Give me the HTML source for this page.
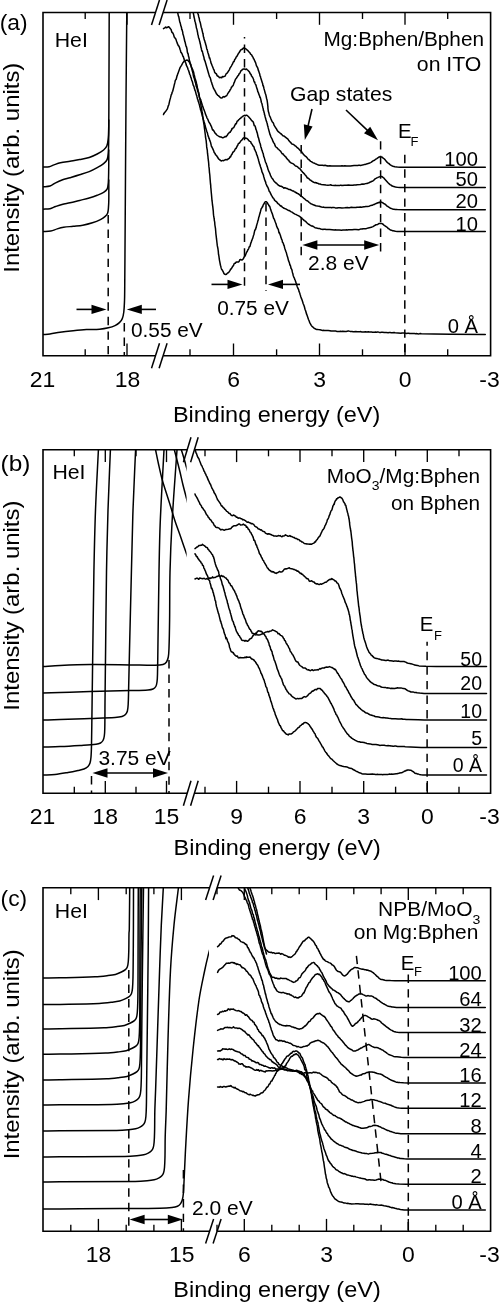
<!DOCTYPE html>
<html lang="en"><head><meta charset="utf-8"><title>UPS spectra</title>
<style>html,body{margin:0;padding:0;background:#fff}svg{display:block}text{font-family:"Liberation Sans", Arial, Helvetica, sans-serif}</style>
</head><body>
<svg width="500" height="1302" viewBox="0 0 500 1302" font-family='"Liberation Sans", Arial, Helvetica, sans-serif' fill="#000">
<rect width="500" height="1302" fill="#fff"/>
<!-- panel a -->
<defs><clipPath id="ca"><rect x="43.0" y="12.5" width="447.6" height="343.3"/></clipPath></defs>
<path d="M155.3 12.5H43V355.8H155.3M163.3 12.5H490.6V355.8H163.3" fill="none" stroke="#000" stroke-width="1.6" stroke-linejoin="miter"/>
<line x1="151.5" y1="25" x2="159.5" y2="0" stroke="#000" stroke-width="1.5" stroke-linecap="butt"/>
<line x1="159.1" y1="25" x2="167.1" y2="0" stroke="#000" stroke-width="1.5" stroke-linecap="butt"/>
<line x1="151.5" y1="368.3" x2="159.5" y2="343.3" stroke="#000" stroke-width="1.5" stroke-linecap="butt"/>
<line x1="159.1" y1="368.3" x2="167.1" y2="343.3" stroke="#000" stroke-width="1.5" stroke-linecap="butt"/>
<line x1="127" y1="12.5" x2="127" y2="24.8" stroke="#000" stroke-width="1.35" stroke-linecap="butt"/>
<line x1="233.5" y1="12.5" x2="233.5" y2="24.8" stroke="#000" stroke-width="1.35" stroke-linecap="butt"/>
<line x1="319.5" y1="12.5" x2="319.5" y2="24.8" stroke="#000" stroke-width="1.35" stroke-linecap="butt"/>
<line x1="405" y1="12.5" x2="405" y2="24.8" stroke="#000" stroke-width="1.35" stroke-linecap="butt"/>
<line x1="127" y1="355.8" x2="127" y2="343.5" stroke="#000" stroke-width="1.35" stroke-linecap="butt"/>
<line x1="233.5" y1="355.8" x2="233.5" y2="343.5" stroke="#000" stroke-width="1.35" stroke-linecap="butt"/>
<line x1="319.5" y1="355.8" x2="319.5" y2="343.5" stroke="#000" stroke-width="1.35" stroke-linecap="butt"/>
<line x1="405" y1="355.8" x2="405" y2="343.5" stroke="#000" stroke-width="1.35" stroke-linecap="butt"/>
<line x1="85.2" y1="12.5" x2="85.2" y2="19" stroke="#000" stroke-width="1.35" stroke-linecap="butt"/>
<line x1="190" y1="12.5" x2="190" y2="19" stroke="#000" stroke-width="1.35" stroke-linecap="butt"/>
<line x1="276.6" y1="12.5" x2="276.6" y2="19" stroke="#000" stroke-width="1.35" stroke-linecap="butt"/>
<line x1="362.5" y1="12.5" x2="362.5" y2="19" stroke="#000" stroke-width="1.35" stroke-linecap="butt"/>
<line x1="447.7" y1="12.5" x2="447.7" y2="19" stroke="#000" stroke-width="1.35" stroke-linecap="butt"/>
<line x1="85.2" y1="355.8" x2="85.2" y2="349.3" stroke="#000" stroke-width="1.35" stroke-linecap="butt"/>
<line x1="190" y1="355.8" x2="190" y2="349.3" stroke="#000" stroke-width="1.35" stroke-linecap="butt"/>
<line x1="276.6" y1="355.8" x2="276.6" y2="349.3" stroke="#000" stroke-width="1.35" stroke-linecap="butt"/>
<line x1="362.5" y1="355.8" x2="362.5" y2="349.3" stroke="#000" stroke-width="1.35" stroke-linecap="butt"/>
<line x1="447.7" y1="355.8" x2="447.7" y2="349.3" stroke="#000" stroke-width="1.35" stroke-linecap="butt"/>
<text transform="translate(42.6 386.6) scale(1.02 1)" font-size="22.5" text-anchor="middle">21</text>
<text transform="translate(127.4 386.6) scale(1.02 1)" font-size="22.5" text-anchor="middle">18</text>
<text transform="translate(233.5 386.6) scale(1.02 1)" font-size="22.5" text-anchor="middle">6</text>
<text transform="translate(319.5 386.6) scale(1.02 1)" font-size="22.5" text-anchor="middle">3</text>
<text transform="translate(405 386.6) scale(1.02 1)" font-size="22.5" text-anchor="middle">0</text>
<text transform="translate(489.5 386.6) scale(1.02 1)" font-size="22.5" text-anchor="middle">-3</text>
<text transform="translate(276.6 421.6) scale(1.03 1)" font-size="22.8" text-anchor="middle">Binding energy (eV)</text>
<text transform="translate(19.3 167.7) rotate(-90) scale(1.05 1)" font-size="22.8" text-anchor="middle">Intensity (arb. units)</text>
<text transform="translate(-0.3 30)" font-size="22.8" text-anchor="start">(a)</text>
<text transform="translate(54.7 47) scale(1.08 1)" font-size="19.7" text-anchor="start">HeI</text>
<text transform="translate(484 45.5) scale(1.06 1)" font-size="19.6" text-anchor="end">Mg:Bphen/Bphen</text>
<text transform="translate(481.4 70.7) scale(1.085 1)" font-size="19.6" text-anchor="end">on ITO</text>
<text transform="translate(290 100.5) scale(1.08 1)" font-size="19.6" text-anchor="start">Gap states</text>
<text transform="translate(398 138)" font-size="20.4" text-anchor="start">E</text>
<text transform="translate(410.5 145.5)" font-size="13" text-anchor="start">F</text>
<text transform="translate(478 165.6)" font-size="20.2" text-anchor="end">100</text>
<text transform="translate(478 186.4)" font-size="20.2" text-anchor="end">50</text>
<text transform="translate(478 208.3)" font-size="20.2" text-anchor="end">20</text>
<text transform="translate(478 230.8)" font-size="20.2" text-anchor="end">10</text>
<text transform="translate(478 332.5)" font-size="20.2" text-anchor="end">0 Å</text>
<text transform="translate(131 337.4) scale(1.04 1)" font-size="20" text-anchor="start">0.55 eV</text>
<text transform="translate(217.2 314.8) scale(1.04 1)" font-size="20" text-anchor="start">0.75 eV</text>
<text transform="translate(308 270.4) scale(1.05 1)" font-size="20" text-anchor="start">2.8 eV</text>
<line x1="108.2" y1="215" x2="108.2" y2="356" stroke="#000" stroke-width="1.5" stroke-linecap="butt" stroke-dasharray="8.4 6.15"/>
<line x1="124.3" y1="323" x2="124.3" y2="356" stroke="#000" stroke-width="1.5" stroke-linecap="butt" stroke-dasharray="8.4 6.15"/>
<line x1="244.5" y1="37" x2="244.5" y2="291" stroke="#000" stroke-width="1.5" stroke-linecap="butt" stroke-dasharray="8.4 6.15" stroke-dashoffset="7"/>
<line x1="266" y1="203" x2="266" y2="291" stroke="#000" stroke-width="1.5" stroke-linecap="butt" stroke-dasharray="8.4 6.15"/>
<line x1="301.2" y1="145" x2="301.2" y2="256" stroke="#000" stroke-width="1.5" stroke-linecap="butt" stroke-dasharray="8.4 6.15"/>
<line x1="380.6" y1="141.2" x2="380.6" y2="255" stroke="#000" stroke-width="1.5" stroke-linecap="butt" stroke-dasharray="8.4 6.15"/>
<line x1="404.8" y1="154.8" x2="404.8" y2="356" stroke="#000" stroke-width="1.5" stroke-linecap="butt" stroke-dasharray="8.4 6.15"/>
<line x1="76.5" y1="309.4" x2="94.5" y2="309.4" stroke="#000" stroke-width="1.6" stroke-linecap="butt"/>
<polygon points="106.5,309.4 91.5,314.1 91.5,304.7" fill="#000"/>
<line x1="156" y1="309.4" x2="138.8" y2="309.4" stroke="#000" stroke-width="1.6" stroke-linecap="butt"/>
<polygon points="126.8,309.4 141.8,304.7 141.8,314.1" fill="#000"/>
<line x1="211.5" y1="284.4" x2="230.5" y2="284.4" stroke="#000" stroke-width="1.6" stroke-linecap="butt"/>
<polygon points="242.5,284.4 227.5,289.1 227.5,279.7" fill="#000"/>
<line x1="300" y1="284.4" x2="280" y2="284.4" stroke="#000" stroke-width="1.6" stroke-linecap="butt"/>
<polygon points="268,284.4 283,279.7 283,289.1" fill="#000"/>
<line x1="314.4" y1="245" x2="367.2" y2="245" stroke="#000" stroke-width="1.6" stroke-linecap="butt"/>
<polygon points="379.2,245 364.2,249.7 364.2,240.3" fill="#000"/>
<polygon points="302.4,245 317.4,249.7 317.4,240.3" fill="#000"/>
<line x1="312" y1="109" x2="307.51" y2="128.31" stroke="#000" stroke-width="1.6" stroke-linecap="butt"/>
<polygon points="304.8,140 303.81,124.37 312.58,126.41" fill="#000"/>
<line x1="346" y1="110" x2="369.29" y2="132.05" stroke="#000" stroke-width="1.6" stroke-linecap="butt"/>
<polygon points="378,140.3 364.01,133.25 370.2,126.72" fill="#000"/>
<path d="M42.6 167.1C44.8 167 47.07 167.21 49.2 166.8C50.87 166.48 52.38 165.48 54 164.9C56.11 164.15 58.22 163.3 60.4 162.8C63.55 162.07 66.8 161.73 70 161.2C73.2 160.67 76.42 160.21 79.6 159.6C82.82 158.98 86.09 158.49 89.2 157.5C91.96 156.62 94.63 155.34 97.2 154C99.43 152.84 101.69 151.59 103.6 150C104.89 148.92 106.16 147.53 106.8 146C107.69 143.87 107.95 141.36 108.2 139C108.58 135.36 108.63 131.67 108.7 128C108.87 118.67 108.86 109.33 108.9 100C109.03 70.67 109.1 41.33 109.2 12" fill="none" stroke="#000" stroke-width="1.5" stroke-linejoin="round" stroke-linecap="round" clip-path="url(#ca)"/>
<path d="M42.6 186.8C45.07 186.53 47.68 186.71 50 186C52.01 185.38 53.68 183.76 55.6 182.8C57.68 181.76 59.81 180.78 62 180C64.61 179.08 67.34 178.49 70 177.7C73.21 176.75 76.41 175.81 79.6 174.8C82.81 173.78 86.09 172.87 89.2 171.6C91.95 170.47 94.6 169.05 97.2 167.6C99.4 166.38 101.66 165.16 103.6 163.6C104.96 162.5 106.44 161.17 107.1 159.6C108.01 157.44 108.1 154.82 108.3 152.4C108.64 148.29 108.64 144.13 108.7 140C108.8 133.33 108.77 126.67 108.8 120" fill="none" stroke="#000" stroke-width="1.5" stroke-linejoin="round" stroke-linecap="round" clip-path="url(#ca)"/>
<path d="M42.6 209.2C45.07 209.03 47.61 209.2 50 208.7C51.94 208.3 53.71 207.18 55.6 206.5C57.71 205.74 59.83 204.96 62 204.4C64.63 203.72 67.35 203.4 70 202.8C73.22 202.07 76.4 201.2 79.6 200.4C82.8 199.6 86.03 198.92 89.2 198C91.9 197.22 94.58 196.32 97.2 195.3C99.38 194.45 101.63 193.61 103.6 192.4C104.93 191.58 106.44 190.55 107.1 189.2C108.01 187.35 108.12 184.96 108.3 182.8C108.65 178.56 108.63 174.27 108.7 170C108.8 163.33 108.77 156.67 108.8 150" fill="none" stroke="#000" stroke-width="1.5" stroke-linejoin="round" stroke-linecap="round" clip-path="url(#ca)"/>
<path d="M42.6 231.6C45.33 231.43 48.13 231.59 50.8 231.1C53 230.69 55.04 229.54 57.2 228.9C59.31 228.27 61.43 227.65 63.6 227.3C66.77 226.79 70 226.65 73.2 226.3C76.4 225.95 79.64 225.78 82.8 225.2C86.04 224.61 89.26 223.8 92.4 222.8C95.13 221.93 97.84 220.88 100.4 219.6C102.11 218.74 103.78 217.66 105.2 216.4C106.18 215.53 107.12 214.4 107.6 213.2C108.19 211.74 108.25 210.01 108.4 208.4C108.65 205.61 108.76 202.8 108.8 200C108.89 193.34 108.8 186.67 108.8 180" fill="none" stroke="#000" stroke-width="1.5" stroke-linejoin="round" stroke-linecap="round" clip-path="url(#ca)"/>
<path d="M42.6 334.6C45.07 334.4 47.55 334.34 50 334C53.35 333.54 56.65 332.68 60 332.2C64.38 331.58 68.79 331.13 73.2 330.7C77.59 330.27 81.99 329.85 86.4 329.6C90.79 329.35 95.22 329.56 99.6 329.2C102.55 328.96 105.52 328.47 108.4 327.8C110.65 327.27 112.92 326.58 115 325.6C116.59 324.85 118.14 323.81 119.4 322.6C120.57 321.48 121.68 320.09 122.3 318.6C123.15 316.56 123.52 314.23 123.8 312C124.25 308.37 124.35 304.67 124.5 301C124.65 297.34 124.67 293.67 124.7 290C124.9 266.67 125.04 243.33 125.2 220C125.47 180 125.69 140 126 100C126.23 70.67 126.53 41.33 126.8 12" fill="none" stroke="#000" stroke-width="1.5" stroke-linejoin="round" stroke-linecap="round" clip-path="url(#ca)"/>
<path d="M197.6 12L198 14L198.3 14.6L198.7 16.7L199.2 18.3L199.6 20.7L199.8 21.2L200.3 22.7L201.2 27.2L201.7 28.5L202.8 33.3L203 33.7L203.3 35.8L203.5 37L203.8 37.4L204 39L204.2 39.4L204.5 40.5L204.7 40.6L205.2 42.9L205.4 43L205.7 44.7L205.9 45L206.2 45.9L206.7 48.7L206.9 49.3L207.2 49.5L207.5 50.9L207.7 51.7L208 53L208.3 53.8L208.6 54.9L208.8 55.4L209.4 58.1L209.7 57.8L210.4 60.4L210.7 61.4L211 63L211.3 63.4L212 65.3L212.3 65.9L213.4 68.8L214.2 70.4L214.6 72.2L215 72.6L215.5 73.5L216 73.5L216.5 74.1L217.1 75.6L217.8 76.2L218.5 76.3L219.3 77.5L220 77.7L220.8 77.3L221.7 77.7L222.6 76.4L223.5 76.8L224.3 76.4L225 76.2L226.2 73.7L226.8 73.4L227.9 72.1L228.5 71L229.5 69.6L230 68.1L231.5 65.8L232 64.7L232.5 64.1L233 62.7L233.4 61.8L233.8 61.7L234.3 61L234.7 59.4L235.1 59.2L235.6 58.6L236 57.4L236.5 56.5L236.9 56.4L238.6 53.2L239.2 52.5L240.6 50.1L241.3 49.6L242.1 49.4L243.6 47.9L244.3 48.2L245 48.4L245.8 48.7L246.5 49.6L247.3 50L248 50.8L248.8 51.8L249.4 52.2L250 52.9L250.6 54.2L251.6 54.8L252.1 56L253.1 57.4L253.5 58.7L254 59.1L255.2 62L255.6 62.6L256.4 65.6L257.4 67.4L257.8 68.2L258.4 70.5L258.7 71L259.4 73.4L259.7 73.9L260 75.8L260.5 76.7L260.8 78L262 81.7L262.3 82.9L262.6 83.4L262.9 85.3L263.1 85.9L263.4 86L264 88.7L264.5 90.4L265.3 93.5L265.6 94.1L265.9 95.1L266.6 98.5L267 99.8L267.2 100.8L267.6 103.9L267.8 106.1L267.9 106.2L267.9 108.1L268.3 111L268.4 111.8L268.6 112L269 113.6L269.3 114.9L269.6 115.8L270.2 117L271 119.1L272.2 121.7L273.1 122.7L273.6 123.6L274 125.1L276 128.3L276.5 128.9L277.1 130.2L278.3 131.7L280.5 133.5L281.3 134L282.9 135.7L283.8 135.9L287.6 138.8L288.2 139.5L288.8 140.6L290 141.9L290.7 142.3L291.4 143.5L292.1 144.1L292.8 144.2L293.6 144.7L294.3 144.9L295 145.8L295.7 146.1L297.2 147.7L298.6 148.7L299.3 149.5L300 150.4L300.6 150.8L301.2 151.1L302.3 152.7L302.9 153.4L303.4 154.5L304 154.9L304.7 155.6L306 156.6L306.6 157.3L307.3 158.1L308 159.1L308.6 159.4L309.9 160.6L310.6 161.4L311.3 161.6L312 162L312.8 162.6L314.4 163.2L315.2 163.7L316 164.1L316.8 164.3L317.6 164.7L319.2 165.2L320 165.3L321.7 165.2L322.6 165.3L323.4 165.5L325.1 165.3L326 165.5L326.9 165.9L327.9 165.8L328.8 165.9L329.7 165.7L331.6 166L332.5 166.1L334.4 166L335.3 166.1L336.3 166L338.1 166.1L339.1 165.9L340.9 166L341.9 165.8L343.8 165.9L344.7 165.8L346.6 166.1L347.5 165.9L350.4 166L352.2 165.7L354.1 165.5L355.1 165.6L356 165.4L356.9 165.6L357.8 165.5L358.7 165.3L359.6 165.2L360.5 165.4L361.4 165.2L362.2 165.1L363.1 164.9L364 164.6L364.9 164.6L365.7 164.3L366.5 163.9L368.2 163.6L369 163.2L370.6 162.6L371.4 162.2L373 160.9L374.5 160.3L376 159L376.8 158.6L379.2 156.9L379.9 156.8L380.6 157L381.3 157L382 157.1L383.2 158.1L383.8 158.5L385 159.6L386.8 162L387.4 162.3L388 163.1L388.7 163.4L390 164.6L391.5 165.6L393 166.3L393.9 166.4L394.7 166.7L397.3 167.1L400.1 167.3L404 167.3L485.3 167.3" fill="none" stroke="#000" stroke-width="1.5" stroke-linejoin="round" stroke-linecap="round" clip-path="url(#ca)"/>
<path d="M193 11.8L193.4 13.3L193.6 14.6L193.8 15.3L194 17L194.4 18.4L195 21.5L195.2 21.7L195.6 23.9L195.8 24.4L196 25.4L196.4 28L196.6 28.4L197.1 30.1L197.3 31.5L197.5 32.1L197.9 34.8L198.2 35.5L198.6 38L198.8 38.2L199.1 38.9L199.8 41.9L200 42.4L200.2 43.8L200.5 44.6L201 47.7L201.3 48.2L201.5 49.7L202 51.2L202.3 51.1L202.6 52.4L202.8 53.1L203.4 55.8L203.9 57.2L204.2 59.1L205 61.1L205.3 62.1L205.5 62.7L208.8 74.3L209.1 75L209.4 76.4L210.3 77.9L211.2 81.5L211.8 83L212.1 84.4L212.5 85.1L212.8 86.3L213.2 87.1L213.5 88.3L213.9 88.8L214.3 89.7L214.7 90.1L216.5 93.8L217.1 94.3L217.7 95.4L218.4 95.6L220.5 97.7L221.3 97.9L222.3 97.7L223.3 96.6L224.3 97L226.7 95.6L227.3 94.5L227.9 93.3L228.4 92.8L229 91.7L229.5 91.2L230 90.1L230.5 89.5L231 88.5L231.5 86.9L232 86.9L232.5 85.9L233 85.8L233.4 84.7L233.9 83.1L234.3 82.5L235.2 80L235.6 79.1L236.5 78L238 75.7L238.5 75.3L239.1 73.9L239.7 73.3L240.3 72.3L240.9 70.8L241.6 70.6L242.3 69.5L242.9 69.3L243.6 68.9L244.3 68.9L245 69.3L245.7 69.5L246.5 69L247.3 69.8L248.1 70.5L248.8 71.3L249.5 72.1L250 73.3L250.5 74L251 74.3L251.5 76L251.9 76.3L252.7 77.5L253.5 79.2L253.9 81L254.3 82.1L254.6 81.8L255 83.3L255.3 84.1L255.7 84.6L256 85.2L256.4 86.8L257.1 89.1L257.4 89.6L257.7 91.3L258.4 92.7L258.7 93.9L259.6 96L259.9 97.2L260.2 97.2L260.8 99.4L261.4 102.5L262 103.8L262.3 105.4L262.5 106.1L262.8 107.4L263 108L263.2 108.9L263.4 110.4L263.7 110.7L264.1 112.7L264.3 112.8L264.5 114.7L264.8 115L265 116.2L265.7 118.7L266 120.1L266.2 120.4L266.5 121.6L266.7 121.8L267 123L267.2 123.5L267.7 126.2L268 126.5L268.2 127.9L270 134.5L270.3 135L271 137L272.4 139.7L272.8 141L273.2 141.6L273.6 142.6L274.5 143.8L275 145.4L275.5 146.4L276 147L277.2 147.8L277.8 148.9L278.5 149.1L279.7 150.6L280.4 150.9L281 151.8L281.6 152.9L282.2 153.7L282.9 153.7L283.5 154.9L284.1 155.2L285.4 156.7L286 157.2L286.6 158.3L287.7 159.6L288.2 159.9L288.8 160.4L289.4 161.6L291.4 163.1L292.1 163.4L292.8 163.5L293.5 164L295 165.5L295.7 166.1L296.5 166.2L297.2 166.6L297.9 167.1L298.6 168.1L299.3 168.3L300 168.8L301.2 170.5L302.3 171.8L302.9 172.6L303.4 172.8L304 173.6L304.6 174.1L305.1 175L305.7 175.4L307.4 178L308 178.1L308.7 178.6L310 180L310.8 180.3L311.5 181.1L312.2 181.3L313 182L313.8 182.3L314.6 182.7L315.4 182.6L316.3 182.7L317.1 183.3L318 183.3L318.8 183.9L319.6 183.9L320.4 184.1L321.2 184.5L326 185.1L327.9 185.2L329.7 185L330.7 184.8L331.6 185.2L334.4 185.4L335.3 185.3L336.3 185.6L338.1 185.4L340 185.4L340.9 185.1L341.9 185.6L344.7 185.3L346.6 185.2L348.5 184.9L350.4 185.2L353.2 185.2L354.1 184.9L356 185.1L356.9 184.8L360.5 184.5L362.2 184.1L363.1 184.3L364 184L364.9 183.9L366.5 183.4L367.4 183.4L368.2 183L369 182.8L369.8 182.2L370.6 182L371.4 181.5L372.2 181.3L373 180.8L373.8 180.2L374.5 179.5L375.2 178.7L376 178.4L376.8 177.9L377.6 177.6L378.5 177.1L380.6 176.5L382 176.6L382.6 177.2L383.2 177.5L383.9 178L384.4 178.8L388 182.8L390 184.6L390.7 184.9L392.2 186.1L393 186.3L393.8 186.6L395.5 187L397.3 187.2L400.1 187.4L404 187.4L485.3 187.4" fill="none" stroke="#000" stroke-width="1.5" stroke-linejoin="round" stroke-linecap="round" clip-path="url(#ca)"/>
<path d="M177.5 11.8L178.4 16.1L178.7 16.3L178.9 17.4L179.8 22.2L180.1 22.5L180.5 24.2L180.8 25.8L181 26L181.5 27.7L181.7 29.5L182 29.3L182.2 30.5L182.7 32L182.9 34L183.1 34.5L183.4 35.3L183.9 37.4L184.3 39L184.8 41.5L185 41.6L185.3 43L185.5 43.9L186 46.2L186.5 47L187 49.2L187.4 52.3L187.7 53.2L187.9 53.2L188.1 53.8L188.4 55.6L188.6 56.6L188.9 57.2L189.3 60.1L189.6 60.9L189.8 62.1L190.3 63.4L190.5 64.6L190.8 65.5L191.3 66.8L192.5 71.6L193 73.2L193.3 75.4L193.8 77.4L194 77.5L194.3 78.6L194.5 79.2L194.8 80.5L195.3 82.4L195.5 82.3L195.8 84.4L196.3 86.6L196.6 87.3L196.9 87.5L197.7 91.2L198 91.9L198.3 92.3L198.6 94.1L198.9 94.8L199.2 96.4L199.5 97.3L199.8 97.8L200.1 99.2L200.4 99.7L200.7 99.6L201.3 102.1L201.6 102.8L202.3 105.2L202.6 105.9L203.7 109.1L205 112.5L205.4 113.9L205.7 114.6L206.1 115.7L206.5 116.2L206.8 117.5L207.2 118.4L207.6 118.9L208.4 120.7L208.8 122.1L209.2 122.2L209.6 123.2L210 123.8L210.4 124.3L210.8 125.6L211.2 125.9L211.6 127L212.5 129.9L213 129.8L213.9 131L214.4 131.8L215 133L215.6 133.7L216.2 134.2L216.8 135L219 136.5L219.7 136.7L220.5 137L221.4 137.1L222.3 137.7L223.3 137.7L224.3 137.2L225.2 136.4L226 136.7L227.5 135L228.2 133.6L228.9 133.2L229.5 132.2L230.1 132.3L230.8 131.1L231.4 130.3L232 128.6L232.6 128.8L233.1 127.7L233.7 127.6L234.2 126.7L235.7 123.7L236.3 123.8L236.8 122.1L237.4 120.9L238 120.7L238.6 119.9L239.3 119.3L240 118.6L240.7 118.2L241.4 117.2L242.2 116.8L243 116.2L244.5 115.3L245.3 115.8L246.1 115.2L246.9 115.2L248.6 116.8L249.4 117.7L250.6 119.1L251.8 120.8L252.3 120.9L252.9 121.7L253.3 122L254.2 125.5L254.6 125.3L255 126L255.4 127L256 129.5L256.3 129.9L256.8 131.9L257.3 133.1L258 136.5L258.2 137.4L258.5 137.8L259.6 142.2L260.1 143.5L260.4 144.5L260.7 146.2L260.9 147.2L261.2 147.5L261.8 150.1L262.1 150.3L262.3 151.1L262.6 152.2L263.2 153.6L263.8 156.9L264.1 157.1L265.3 161.4L265.6 162.3L266.2 163.3L266.5 164.5L266.8 165.1L267.1 166.4L267.4 167L268.1 169.6L268.4 170.1L268.7 171.2L269.1 171.8L270.2 174.4L270.6 175.7L271 176.3L271.5 177.3L272 178.2L272.5 178.7L273.1 179.5L273.7 180.8L274.9 182L275.6 182.9L276.3 182.9L277.7 184.7L279.4 185.8L280.3 186.2L281.2 186.3L282.1 186.7L283 187.3L283.9 188.2L284.7 187.7L285.6 188L286.5 188.4L287.4 188.6L288.3 189.2L289.1 189.4L290 189.5L292.5 190.9L293.4 190.9L294.2 191.6L295 192L297.5 193.5L298.4 193.8L300 195.1L300.7 195.9L301.5 196.5L302.2 196.7L304.3 198.7L305 199.1L305.7 200L306.4 200.5L307.1 200.7L307.8 201.1L308.5 201.7L309.2 202.5L310.8 203.7L311.6 203.9L312.4 204.3L313.3 204.8L315.8 205.8L317.5 206.1L319.2 206.2L321.5 207L323 207.2L323.7 207.1L324.5 207.4L325.2 207.4L326 207.6L326.9 207.4L327.9 207.5L329.7 207.6L330.7 207.4L331.6 207.8L332.5 207.6L334.4 207.6L335.3 207.9L337.2 208L338.1 207.8L339.1 207.8L340 207.7L341.9 207.9L344.7 207.8L347.5 207.5L348.5 207.7L349.4 207.7L351.3 207.3L353.2 207.4L354.1 207.6L355.1 207.4L356 207.4L356.9 207.2L357.8 207.2L358.7 207.3L360.5 207.1L361.3 207.3L364 206.8L364.8 206.8L365.7 206.6L367.3 206.4L369 206.2L369.8 205.9L370.6 205.6L372.2 205.3L373 204.8L373.8 204.4L374.5 204.4L375.2 203.9L376.8 203.2L378.5 202.5L379.2 202.8L379.9 202.1L381.3 202.1L382.6 202.7L384.2 203.8L385 204.1L385.8 204.9L386.5 205.4L387.2 206.2L388 206.5L388.8 207.2L390.6 208.3L392.3 208.9L393.1 209.2L393.9 209.2L395.5 209.4L397.3 209.6L404 209.7L485.3 209.7" fill="none" stroke="#000" stroke-width="1.5" stroke-linejoin="round" stroke-linecap="round" clip-path="url(#ca)"/>
<path d="M163.5 28.6L165 27.6L165.6 27.1L166.3 27.8L167.7 27.2L168.4 26.7L169 27L169.6 27.9L170.1 28.2L170.6 29L171 29.3L171.9 32.4L172.3 32.4L172.7 32.8L173.5 34.4L174.3 37.2L174.7 37.4L175.1 38.3L175.9 39.1L176.7 41.9L177 42.3L177.4 43.7L177.8 44.2L178.1 45.4L178.9 46.1L179.3 47.2L179.6 47.7L180 49.3L180.4 50.2L180.8 52.2L181.5 52.9L182.3 54.4L183 56.6L183.4 56.6L183.8 58.3L184.1 59.2L184.5 60.5L184.9 60.9L185.2 61.9L185.9 63.3L186.3 65.1L187.7 68L188 69.2L188.7 70.7L189.3 72.7L189.7 74.3L190.3 75.2L190.6 76.9L191 77.7L191.3 78.3L191.6 79.9L191.9 80.9L192.2 81L193.2 85.1L193.8 86.2L194.1 87.1L194.4 88.6L194.7 89.2L195 90.5L195.3 90.8L196.4 95.1L196.7 95.3L197 96.9L197.5 99.2L197.8 99.4L198.1 100.9L198.6 102.1L198.9 103.3L199.1 103.8L199.4 104.8L199.7 106.2L199.9 107.2L200.2 107.8L200.5 109.6L201 110.8L202.3 115.9L202.9 117.4L203.1 118.8L203.7 120.4L204 121.7L204.8 124.1L205 125.5L205.6 127.3L205.9 128.8L206.4 130.1L206.7 131.2L207.3 132.6L207.9 135L208.4 136.8L208.7 137.1L209 138.6L209.3 138.6L209.7 140.3L210.6 142.6L211.3 145.7L211.6 146.8L212 147L212.3 147.9L212.7 148.5L213.1 149.7L213.4 150.2L213.8 151.1L214.2 152.5L214.6 152.9L215.1 153.5L215.5 154.8L216.5 155.3L217 156.5L217.6 157.1L218.2 158.3L218.9 159.2L219.6 159.6L220.4 160.4L221.2 161L222.8 160.4L223.7 160.7L224.7 160L225.6 159.6L227.3 159.8L228 159L228.7 158.7L229.4 158.1L230 156.8L230.6 156.9L231.2 155.3L231.8 154.6L232.3 153.7L232.9 152.1L233.4 152.1L234.5 150.8L235 149.5L235.5 148.5L236 148.6L237.4 145.7L237.9 145.1L238.4 143.4L239 143.3L239.6 142.8L240.9 140.8L241.6 140.2L242.3 139.7L243 138.4L243.8 137.8L244.5 138.2L245.3 138L247 138.5L247.8 139.2L248.6 140.3L249.4 141.1L250 141.4L250.6 141.6L251.1 143.1L251.6 143.6L252.6 145.1L253.1 146.1L253.5 146.3L253.9 146.7L254.6 149.5L255 149.9L255.7 151.8L256.1 152.2L256.7 154.8L257.1 155.3L258 158.2L258.3 158.9L258.6 160.5L258.9 161.4L259.5 163.9L259.8 164.3L260.4 166.5L260.7 167.2L261.6 170L261.9 171.6L262.5 172.9L263.4 175L263.7 176.5L264 177.4L264.7 180L265 180.4L265.3 181.6L265.6 181.9L265.9 183.5L267.3 186.6L267.7 187L268.5 188.9L269.3 191.4L269.7 191.6L271 194.3L271.5 195.4L272 196.1L272.5 197.2L273.1 198.1L273.6 198.2L274.2 199.5L274.8 200.5L275.4 201L276.7 201.8L277.3 202.9L278 203.6L278.7 204L279.4 204.7L280.1 205.6L280.9 206.2L281.6 206.1L282.4 207.3L283.2 207.7L284 208.3L285.7 208.9L288.3 210.4L289.1 210.4L290.8 211.6L292.5 212.4L293.3 213.1L295 214.1L295.8 214.4L296.7 214.9L299.2 216.1L301.5 217.9L302.2 218.6L302.9 219.2L303.6 219.9L304.3 220.6L305.7 221.4L307.1 223L308.5 224.2L309.3 224.5L310 225.1L310.8 225.5L311.6 226.1L312.4 226L313.3 226.5L315 227.7L316.6 228L317.5 228.3L318.3 228.5L319.2 228.4L320.7 229L323 229.5L323.7 229.3L325.2 229.3L326 229.5L326.9 229.5L328.8 229.6L329.7 229.5L334.4 229.9L335.3 229.8L336.3 230L337.2 229.9L338.1 230.1L339.1 229.9L341.9 230.2L342.8 230.1L343.8 230.1L344.7 229.9L345.6 230L346.6 229.8L347.5 229.9L348.5 229.7L352.2 229.8L354.1 229.5L356 229.4L358.7 229.7L360.5 229.1L361.3 228.9L362.2 229L363.1 228.7L364 228.8L365.7 228.8L366.5 228.6L368.2 227.9L371.4 227.3L372.2 226.9L373 226.6L374.5 225.6L375.2 225.3L376 224.7L377.7 224.4L379.2 223.4L379.9 223.5L380.6 223.4L381.3 223.6L382 223.6L383.4 224.5L384.2 225.4L385 225.8L386.5 226.9L387.2 227.3L388 228.4L388.7 228.5L389.4 229.4L390.8 230.2L391.5 230.2L392.3 230.7L393.1 230.8L395.5 231.2L397.3 231.4L404 231.5L485.3 231.5" fill="none" stroke="#000" stroke-width="1.5" stroke-linejoin="round" stroke-linecap="round" clip-path="url(#ca)"/>
<path d="M163.5 114.6L163.9 113.2L164.2 113.4L164.6 112.3L165 112.1L165.5 111.6L167.4 108.9L168.3 105.7L168.6 105.3L168.9 104.4L169.7 100.6L170.5 97.9L171.3 94.6L171.6 94.3L171.9 93.6L172.1 92.2L172.4 92.1L172.7 91.3L174 86.1L174.3 84.7L174.8 82.9L175.3 80.4L176.2 79.3L177 76L177.3 75.4L177.7 74L178 73.4L178.3 72.6L180.2 67.3L181.5 65.3L183 62.5L183.5 62.1L184.1 61.3L184.7 60.7L185.4 60.4L186 60.5L186.7 60L187.6 60.2L188.4 61L189 61.8L189.5 62.1L190.3 64.2L190.7 64.3L191.4 67.1L192.9 70.1L193.2 71.4L193.5 71.7L193.7 72.6L194 74.2L194.5 75.9L195 78.6L195.3 79L195.8 80.9L196 81.1L196.5 83.5L196.7 84L197.2 86.3L197.4 88.1L197.8 89L198.2 91.2L198.7 92.5L199.1 94.3L199.4 97.4L199.6 98L199.8 98.1L200 99.8L200.5 103.2L200.9 104.4L201 106.1L201.5 107.7L202.1 112.5L202.3 113.3L202.5 113.5L202.7 116.6L203 118.3L203.2 119.6L203.6 122.3L203.7 122.7L203.9 124.2L204.1 125.2L204.4 128L205.4 135.5L205.5 137L206.2 140.9L206.4 143.5L206.5 143.7L206.7 146.9L207.1 149.3L207.3 150.2L207.5 153.2L208 157L208.1 158.7L208.2 158.8L208.3 160.2L208.5 161.4L208.7 163.5L208.9 166.4L209.2 168.7L209.5 172.9L209.5 172.5L209.8 175L210.1 179.1L210.2 180.3L210.5 184L210.7 185L210.8 187.8L210.9 188.1L211.2 191.7L211.5 194.8L212 200.7L212.2 201.8L212.5 205L212.7 205.9L213.3 211.4L213.4 213.5L213.6 215.4L213.7 215.8L214.1 218.5L214.2 218.8L214.3 220.5L214.4 220.5L214.7 222.3L214.9 225L215.5 228.7L215.9 233.8L216.2 236.1L216.5 239L216.6 239.5L217 243L217.3 245.7L217.9 248.5L218.3 251.4L218.5 254.2L218.7 255.2L218.9 256.2L219.4 259.8L220.5 265.5L220.7 265.9L221 267.4L221.3 268.4L221.6 269.2L222 269.7L223.4 272.2L223.9 273.4L224.4 274L225 274.3L225.7 274.5L226.5 274.2L227.4 273.1L228.3 272.7L229 272L229.6 271.1L230.1 270.4L230.6 269.1L231.1 269.1L232 267.7L232.5 266.6L233 266.1L233.6 265.3L234.1 263.8L234.7 263.2L235.3 263.2L236 262.3L236.8 262L238.5 262.1L239.2 261.2L239.8 259.7L240.5 259.5L241.9 260.1L242.5 259.5L243.1 259.1L243.6 258.1L244 257.5L244.5 256.4L244.9 256.2L245.4 255.3L246.3 252.9L246.7 252.1L247.2 251.5L247.6 250.4L248 249.6L248.4 249.2L248.8 248.3L249.2 246.9L249.6 246.6L249.9 246.6L250.7 243.5L251 242.5L251.3 242.2L251.7 240.5L252 240.1L252.3 239L252.6 238.6L253.6 235.1L253.9 234.5L254.1 233.4L254.7 230.6L255 230.3L255.3 229.3L255.6 229.3L255.9 227.9L256.2 227.6L256.4 226.2L257 224.1L257.5 222.5L257.8 221.1L258.1 220.3L258.3 219.9L258.6 218.2L258.8 217.2L259.1 216.6L259.8 213.8L260.1 213.1L261 209.3L261.3 208.6L261.6 208.1L262 207.9L262.3 206.8L262.7 206.7L263.1 205.1L263.6 204.3L264 203.9L264.6 202.6L265.4 201.7L266.1 201.7L266.8 202.2L267.4 202.8L268 204.1L268.5 204.5L268.9 205.7L269.3 205.7L269.7 206.3L270.7 209.6L271 210.4L271.4 211.6L271.7 212.2L272 213.2L272.3 213.7L273.7 218.5L274 218.6L274.3 219.3L275 221.2L275.3 221.9L275.7 223.1L276 223.8L276.7 226.4L277 227L277.4 228L278.3 229.4L279 232.9L279.3 232.4L280.6 236L280.9 237.4L281.3 238.2L281.6 239.4L281.9 239.6L282.2 240.6L282.5 242.3L283.2 243L283.8 245.2L284.1 245.3L284.7 248.2L285 248.9L285.9 251.6L286.2 252.1L287.1 255.6L287.4 256.6L287.6 257L288.5 260.6L289.4 262.8L289.9 265L290.2 264.9L290.5 265.9L291.1 268.5L291.4 268.8L292 270.1L292.3 271.9L292.6 273L292.9 273.8L293.2 275.5L293.6 276.6L294.5 278.5L294.8 279.6L295.2 280.1L295.5 281.4L295.8 282L296.1 283.2L296.5 283.9L297.1 286.2L297.4 287.1L298.7 289.9L299 291.4L299.4 292.3L299.7 292.8L300 294.2L300.3 294.9L300.6 296.2L301.6 298.9L301.9 299.5L302.8 302.2L303.1 303.5L303.8 305L304.4 306.8L305 309.2L305.7 311L306.6 314.2L306.9 314.8L308.5 319.5L309.2 321L309.6 322.3L311.4 325.6L312 326.4L312.6 326.8L314 328.1L315.6 329L316.4 329.4L317.3 329.4L318.2 329.6L320 329.8L322.7 330.4L323.6 330.3L324.5 330.4L326.3 330.5L327.3 330.6L328.2 330.5L330 330.7L331 331L332.9 330.9L333.8 331.1L334.8 330.9L335.7 331L336.7 331.4L337.6 331.4L338.6 331.4L339.5 331.4L340.5 331.2L341.4 331.4L342.4 331.3L345.2 331.5L346.2 331.4L348.1 331.1L349 331.1L350 331.4L351 331.4L352 331.4L352.9 331.7L353.9 331.7L355.9 331.6L356.9 331.8L357.8 331.8L358.8 331.7L359.8 331.8L360.8 331.6L361.8 332L363.7 332L365.7 331.8L366.7 331.9L368.6 331.8L369.6 332.1L370.6 332.1L371.6 332L372.5 332.2L373.5 332.2L374.5 332.2L375.5 332L376.5 332.2L377.5 332L378.4 332.1L379.4 332.4L380.4 332.5L381.4 332.3L382.4 332.3L384.3 332.6L386.3 332.6L388.2 332.8L389.2 332.6L390.2 332.6L391.2 332.8L392.2 332.8L394.1 332.5L395.1 332.8L398 332.9L401 333.2L401.9 333L402.9 333L403.9 333.1L405.8 333.2L406.8 333.4L407.7 333.3L408.7 333.2L409.7 333.5L414.5 333.6L415.5 333.7L416.5 333.6L417.4 333.7L418.4 333.9L419.4 333.8L420.3 333.5L421.3 333.8L433.9 334.1L450.7 334.2L485.3 334.4" fill="none" stroke="#000" stroke-width="1.5" stroke-linejoin="round" stroke-linecap="round" clip-path="url(#ca)"/>
<!-- panel b -->
<defs><clipPath id="cb"><rect x="43.0" y="449.8" width="447.6" height="343.40000000000003"/></clipPath><clipPath id="cbl"><rect x="43.0" y="449.8" width="143.6" height="343.40000000000003"/></clipPath></defs>
<path d="M187.2 449.8H43V793.2H187.2M194.4 449.8H490.6V793.2H194.4" fill="none" stroke="#000" stroke-width="1.6" stroke-linejoin="miter"/>
<line x1="183.4" y1="462.3" x2="191" y2="437.3" stroke="#000" stroke-width="1.5" stroke-linecap="butt"/>
<line x1="190.6" y1="462.3" x2="198.2" y2="437.3" stroke="#000" stroke-width="1.5" stroke-linecap="butt"/>
<line x1="183.4" y1="805.7" x2="191" y2="780.7" stroke="#000" stroke-width="1.5" stroke-linecap="butt"/>
<line x1="190.6" y1="805.7" x2="198.2" y2="780.7" stroke="#000" stroke-width="1.5" stroke-linecap="butt"/>
<line x1="105.3" y1="449.8" x2="105.3" y2="462.1" stroke="#000" stroke-width="1.35" stroke-linecap="butt"/>
<line x1="166.5" y1="449.8" x2="166.5" y2="462.1" stroke="#000" stroke-width="1.35" stroke-linecap="butt"/>
<line x1="236.6" y1="449.8" x2="236.6" y2="462.1" stroke="#000" stroke-width="1.35" stroke-linecap="butt"/>
<line x1="300" y1="449.8" x2="300" y2="462.1" stroke="#000" stroke-width="1.35" stroke-linecap="butt"/>
<line x1="363.7" y1="449.8" x2="363.7" y2="462.1" stroke="#000" stroke-width="1.35" stroke-linecap="butt"/>
<line x1="427.3" y1="449.8" x2="427.3" y2="462.1" stroke="#000" stroke-width="1.35" stroke-linecap="butt"/>
<line x1="105.3" y1="793.2" x2="105.3" y2="780.9" stroke="#000" stroke-width="1.35" stroke-linecap="butt"/>
<line x1="166.5" y1="793.2" x2="166.5" y2="780.9" stroke="#000" stroke-width="1.35" stroke-linecap="butt"/>
<line x1="236.6" y1="793.2" x2="236.6" y2="780.9" stroke="#000" stroke-width="1.35" stroke-linecap="butt"/>
<line x1="300" y1="793.2" x2="300" y2="780.9" stroke="#000" stroke-width="1.35" stroke-linecap="butt"/>
<line x1="363.7" y1="793.2" x2="363.7" y2="780.9" stroke="#000" stroke-width="1.35" stroke-linecap="butt"/>
<line x1="427.3" y1="793.2" x2="427.3" y2="780.9" stroke="#000" stroke-width="1.35" stroke-linecap="butt"/>
<line x1="74.3" y1="449.8" x2="74.3" y2="456.3" stroke="#000" stroke-width="1.35" stroke-linecap="butt"/>
<line x1="136" y1="449.8" x2="136" y2="456.3" stroke="#000" stroke-width="1.35" stroke-linecap="butt"/>
<line x1="205" y1="449.8" x2="205" y2="456.3" stroke="#000" stroke-width="1.35" stroke-linecap="butt"/>
<line x1="268.5" y1="449.8" x2="268.5" y2="456.3" stroke="#000" stroke-width="1.35" stroke-linecap="butt"/>
<line x1="332" y1="449.8" x2="332" y2="456.3" stroke="#000" stroke-width="1.35" stroke-linecap="butt"/>
<line x1="395.6" y1="449.8" x2="395.6" y2="456.3" stroke="#000" stroke-width="1.35" stroke-linecap="butt"/>
<line x1="459" y1="449.8" x2="459" y2="456.3" stroke="#000" stroke-width="1.35" stroke-linecap="butt"/>
<line x1="74.3" y1="793.2" x2="74.3" y2="786.7" stroke="#000" stroke-width="1.35" stroke-linecap="butt"/>
<line x1="136" y1="793.2" x2="136" y2="786.7" stroke="#000" stroke-width="1.35" stroke-linecap="butt"/>
<line x1="205" y1="793.2" x2="205" y2="786.7" stroke="#000" stroke-width="1.35" stroke-linecap="butt"/>
<line x1="268.5" y1="793.2" x2="268.5" y2="786.7" stroke="#000" stroke-width="1.35" stroke-linecap="butt"/>
<line x1="332" y1="793.2" x2="332" y2="786.7" stroke="#000" stroke-width="1.35" stroke-linecap="butt"/>
<line x1="395.6" y1="793.2" x2="395.6" y2="786.7" stroke="#000" stroke-width="1.35" stroke-linecap="butt"/>
<line x1="459" y1="793.2" x2="459" y2="786.7" stroke="#000" stroke-width="1.35" stroke-linecap="butt"/>
<text transform="translate(42.6 824) scale(1.02 1)" font-size="22.5" text-anchor="middle">21</text>
<text transform="translate(105.3 824) scale(1.02 1)" font-size="22.5" text-anchor="middle">18</text>
<text transform="translate(166.5 824) scale(1.02 1)" font-size="22.5" text-anchor="middle">15</text>
<text transform="translate(236.6 824) scale(1.02 1)" font-size="22.5" text-anchor="middle">9</text>
<text transform="translate(300 824) scale(1.02 1)" font-size="22.5" text-anchor="middle">6</text>
<text transform="translate(363.7 824) scale(1.02 1)" font-size="22.5" text-anchor="middle">3</text>
<text transform="translate(427.3 824) scale(1.02 1)" font-size="22.5" text-anchor="middle">0</text>
<text transform="translate(489.5 824) scale(1.02 1)" font-size="22.5" text-anchor="middle">-3</text>
<text transform="translate(277.2 855.2) scale(1.03 1)" font-size="22.8" text-anchor="middle">Binding energy (eV)</text>
<text transform="translate(19.3 605.6) rotate(-90) scale(1.05 1)" font-size="22.8" text-anchor="middle">Intensity (arb. units)</text>
<text transform="translate(0.6 471) scale(1.07 1)" font-size="22.8" text-anchor="start">(b)</text>
<text transform="translate(52.4 479) scale(1.08 1)" font-size="19.7" text-anchor="start">HeI</text>
<text transform="translate(480 483) scale(1.06 1)" font-size="19.6" text-anchor="end">MoO<tspan font-size="13.2" dy="7">3</tspan><tspan dy="-7">/Mg:Bphen</tspan></text>
<text transform="translate(480 509.6) scale(1.06 1)" font-size="19.6" text-anchor="end">on Bphen</text>
<text transform="translate(419.8 631.3)" font-size="20.4" text-anchor="start">E</text>
<text transform="translate(434 639.7)" font-size="13" text-anchor="start">F</text>
<text transform="translate(482 665.5)" font-size="19.5" text-anchor="end">50</text>
<text transform="translate(482 690)" font-size="19.5" text-anchor="end">20</text>
<text transform="translate(482 718)" font-size="19.5" text-anchor="end">10</text>
<text transform="translate(482 745)" font-size="19.5" text-anchor="end">5</text>
<text transform="translate(482 772)" font-size="19.5" text-anchor="end">0 Å</text>
<text transform="translate(98.4 765) scale(1.05 1)" font-size="20" text-anchor="start">3.75 eV</text>
<line x1="91.5" y1="776" x2="91.5" y2="793.2" stroke="#000" stroke-width="1.5" stroke-linecap="butt" stroke-dasharray="8.4 6.15"/>
<line x1="169" y1="660" x2="169" y2="793.2" stroke="#000" stroke-width="1.5" stroke-linecap="butt" stroke-dasharray="8.4 6.15"/>
<line x1="427.1" y1="641.7" x2="427.1" y2="793.2" stroke="#000" stroke-width="1.5" stroke-linecap="butt" stroke-dasharray="8.4 6.15" stroke-dashoffset="4.4"/>
<line x1="104.5" y1="773" x2="156" y2="773" stroke="#000" stroke-width="1.6" stroke-linecap="butt"/>
<polygon points="168,773 153,777.7 153,768.3" fill="#000"/>
<polygon points="92.5,773 107.5,777.7 107.5,768.3" fill="#000"/>
<path d="M42.6 666.6C48.4 666.23 54.19 665.74 60 665.5C69.99 665.08 80 664.69 90 664.6C103.33 664.49 116.67 664.76 130 664.9C138.33 664.99 146.68 665.4 155 665.3C157.68 665.27 160.5 665.22 163 664.5C164.34 664.12 165.71 663.12 166.5 662C167.48 660.62 167.99 658.73 168.3 657C168.82 654.06 168.89 651.01 169 648C169.33 638.67 169.48 629.33 169.6 620C169.81 604 169.6 587.99 170 572C170.4 555.66 171.06 539.32 172 523C173.4 498.65 175.33 474.33 177 450" fill="none" stroke="#000" stroke-width="1.5" stroke-linejoin="round" stroke-linecap="round" clip-path="url(#cb)"/>
<path d="M42.6 693C48.4 692.83 54.2 692.67 60 692.5C70 692.2 80 691.87 90 691.6C103.33 691.24 116.67 690.97 130 690.6C136 690.43 142.02 690.42 148 690C149.69 689.88 151.5 689.67 153 689C154.1 688.51 155.2 687.54 155.8 686.5C156.54 685.21 156.79 683.53 157 682C157.36 679.36 157.44 676.67 157.5 674C157.77 662.67 157.83 651.33 158 640C158.33 617.33 158.57 594.66 159 572C159.31 555.66 159.53 539.32 160.2 523C161.2 498.66 162.73 474.33 164 450" fill="none" stroke="#000" stroke-width="1.5" stroke-linejoin="round" stroke-linecap="round" clip-path="url(#cb)"/>
<path d="M42.6 720C48.4 719.87 54.2 719.78 60 719.6C70 719.28 80 718.88 90 718.5C98.33 718.18 106.68 718.02 115 717.5C117.35 717.35 119.77 717.14 122 716.5C123.27 716.14 124.59 715.42 125.5 714.5C126.39 713.59 127.07 712.26 127.4 711C127.97 708.76 128.07 706.34 128.2 704C128.47 699.34 128.49 694.67 128.6 690C128.92 676.67 129.18 663.33 129.5 650C130.12 624 130.75 598 131.4 572C131.92 551.33 132.29 530.66 133 510C133.69 489.99 134.73 470 135.6 450" fill="none" stroke="#000" stroke-width="1.5" stroke-linejoin="round" stroke-linecap="round" clip-path="url(#cb)"/>
<path d="M42.6 747C48.4 746.87 54.2 746.83 60 746.6C66.67 746.33 73.34 745.93 80 745.5C85.34 745.16 90.71 744.95 96 744.3C97.54 744.11 99.17 743.72 100.5 743C101.5 742.46 102.46 741.5 103 740.5C103.72 739.17 104.08 737.54 104.3 736C104.68 733.37 104.75 730.67 104.8 728C104.98 719.34 104.91 710.67 105 702C105.18 684.67 105.4 667.33 105.6 650C105.9 624 106.05 598 106.5 572C106.85 551.33 107.34 530.66 108 510C108.64 489.99 109.6 470 110.4 450" fill="none" stroke="#000" stroke-width="1.5" stroke-linejoin="round" stroke-linecap="round" clip-path="url(#cb)"/>
<path d="M42.6 775C46.73 774.83 50.89 774.9 55 774.5C59.36 774.07 63.68 773.25 68 772.5C71.35 771.92 74.68 771.23 78 770.5C80.01 770.06 82.11 769.76 84 769C85.44 768.42 86.92 767.58 88 766.5C88.92 765.58 89.6 764.26 90 763C90.6 761.1 90.83 759.02 91 757C91.33 753.02 91.42 749 91.5 745C91.79 730.67 91.9 716.33 92.1 702C92.34 684.67 92.56 667.33 92.8 650C93.16 624 93.4 598 93.9 572C94.3 551.33 94.74 530.66 95.5 510C96.24 489.99 97.43 470 98.4 450" fill="none" stroke="#000" stroke-width="1.5" stroke-linejoin="round" stroke-linecap="round" clip-path="url(#cb)"/>
<path d="M155.6 450C156.57 454.67 157.47 459.35 158.5 464C159.61 469.01 160.67 474.04 162 479C163.17 483.38 164.64 487.67 166 492C167.31 496.17 168.7 500.32 170 504.5C171.7 509.99 173.21 515.54 175 521C176.54 525.71 178.36 530.32 180 535C181.69 539.82 183.32 544.67 185 549.5C185.99 552.34 187 555.17 188 558" fill="none" stroke="#000" stroke-width="1.5" stroke-linejoin="round" stroke-linecap="round" clip-path="url(#cbl)"/>
<path d="M174.4 450C175.27 453.33 176.15 456.66 177 460C178.02 464 179.04 467.99 180 472C181.04 476.32 181.94 480.68 183 485C184.07 489.35 185.27 493.67 186.4 498C187.27 501.33 188.13 504.67 189 508" fill="none" stroke="#000" stroke-width="1.5" stroke-linejoin="round" stroke-linecap="round" clip-path="url(#cbl)"/>
<path d="M181.4 450C182.27 452.83 183.16 455.66 184 458.5C184.83 461.32 185.59 464.17 186.4 467C187.26 470 188.13 473 189 476" fill="none" stroke="#000" stroke-width="1.5" stroke-linejoin="round" stroke-linecap="round" clip-path="url(#cbl)"/>
<path d="M195 449.5L195.4 450.5L196.1 453.1L196.5 453.5L197.3 456.1L197.7 457L198.4 458.1L198.8 458.5L199.6 460.8L200.4 462.7L201.2 465.1L201.6 465.3L202.8 468L203.2 468.7L204 471.1L204.4 471.5L204.8 472.2L205.2 473.6L205.6 473.8L206 475.1L206.4 475.8L206.8 476.4L208.4 480.4L208.8 481L210 483.9L210.4 483.9L211.2 486.3L211.6 487.1L212 488.4L212.4 488.8L212.8 489.5L213.2 490.5L213.6 490.8L214.1 492.8L214.5 493L214.9 494L215.3 494L215.7 495.4L216.2 496.1L216.6 497.5L217.1 498.4L217.5 499.7L218 500.1L218.5 500.9L219 501.5L219.5 502.5L220 503L220.5 503.8L221 505.1L221.6 506L222.2 506L222.8 507L223.4 507.8L224 508L224.6 509.1L225.3 509.5L226.7 511.4L227.4 511.6L228.9 513.3L229.7 513.4L230.4 514.1L231.2 515.2L232 515.7L232.8 515.5L233.7 515L234.6 515.7L235.5 516L236.4 517.2L237.3 517.3L238.2 518.3L239.1 517.9L240 518.1L240.9 518.7L241.8 518.7L242.7 519.9L243.6 519.6L244.5 520.2L245.4 520.6L246.3 521.5L247.1 522.2L248 522L248.8 522.3L249.6 522.8L250.4 523L251.2 523.8L251.9 523.5L252.7 523.9L253.5 524.2L255 526.4L255.8 526.8L256.6 527.1L257.3 527.6L258.1 528.7L259.6 529.2L260.4 529.9L261.2 529.7L262 530.6L262.8 531.2L263.7 531.6L264.5 531.7L265.4 533.1L266.3 533.5L268 534.2L268.8 533.7L271.4 534.7L272.3 535.3L273.1 535.4L274 536.1L274.9 535.9L275.8 535.9L276.6 536.2L277.5 536.1L278.4 535.5L279.3 535.9L280.2 535.6L281.1 536.3L282 536.8L282.9 535.9L283.8 536.1L284.6 535.6L285.5 534.8L286.4 535.4L287.3 535.8L288.1 536.3L289 536L289.9 535.6L290.8 536.4L291.6 536.5L292.5 536.9L293.3 537.5L294.2 537.4L295 538.2L295.9 538.5L296.7 538.4L297.6 539.4L298.4 539.4L299.3 539.9L300.1 541L301 541.1L301.8 542.1L302.6 542L304.3 543.5L306 543.7L306.8 544L307.6 543.9L308.4 544.1L309.2 544.2L310 544L310.8 544.3L311.7 544.2L312.5 543.6L314 543.1L314.7 541.9L315.4 542.1L316 540.7L316.7 539.9L317.3 539.5L317.9 538.2L318.5 537.7L319 536.8L319.5 536.2L320 536.1L320.5 534.6L321 533.5L321.4 532.7L322.7 529.8L323.2 529.8L323.6 528.9L324 528.4L324.4 527.6L324.9 525.9L325.7 524.7L326.1 523.5L326.9 521.7L327.2 520.3L327.6 519.4L328 519L328.7 517.5L329.1 516L329.5 515L329.8 514.7L330.2 513.1L330.5 512.4L330.9 511.1L332 509.7L332.4 508L332.7 507.1L333.1 505.5L333.5 505.2L333.8 504.1L334.2 504.3L334.6 502.5L335.1 501.3L335.5 500.5L336 500.3L336.6 498.8L337.3 498.7L338 497.8L338.6 497.8L339.3 497.2L340 496.9L340.7 497.5L341.4 497.9L342 498.4L342.6 499.3L343.6 501.9L344.1 502.3L344.5 503.2L344.9 503.5L345.2 505L345.6 505L345.9 505.6L346.2 507.3L347 510.4L347.5 512.5L347.7 512.9L347.9 513.6L348.3 516L348.5 515.9L349 519.1L349.2 519.7L349.5 522.3L349.6 522.7L349.7 524.5L350.3 528.3L350.4 528.4L350.7 530.8L350.9 531.5L351.7 538.6L351.8 539L352.1 541.4L352.2 541.6L352.4 545.1L352.9 549.5L353 551L353.1 550.8L353.7 557.1L353.8 557.1L353.9 558L354.3 562.8L354.5 563.9L354.9 569.1L355.4 573.8L355.6 576.7L355.8 577.6L356 580.3L356.2 581.5L356.3 582.9L356.5 583.8L357 591.3L357.1 591.3L357.2 591.9L357.4 594.5L358.4 603.4L358.7 606.5L358.8 606.4L358.9 607.3L359 607.6L359.4 611.4L359.6 612.8L359.9 615.2L360 615.3L360.5 619.1L360.6 620.8L361.2 624.5L361.6 626.5L361.8 627.9L362.1 629.1L362.3 630.6L362.5 631.2L362.9 633.5L363.1 633.7L363.7 637.2L364.4 639.8L365 641.4L365.2 642L366 644.6L366.6 646.7L367.2 648.3L367.8 649.8L368.2 650.3L369 652.2L370.6 654L371.2 655.1L371.8 655.4L374 657.6L374.8 658L375.6 658.2L376.5 658.6L377.3 658.6L378.2 658.9L379.1 659L380 659.4L380.9 659.6L381.8 660.1L382.7 660L384.5 660.2L385.4 660.6L386.3 660.5L387.2 660.2L388.1 660.1L389 660.5L389.9 660.7L390.8 660.7L392.6 661L393.5 661.2L394.4 661L395.3 661L396.2 660.9L397.1 661.2L398.9 661.1L399.7 661.4L400.6 661.5L401.4 661.5L402.3 661.6L403.2 661.4L404 661.5L405.7 662.1L407.3 663L408.2 663.2L409.8 663.4L410.6 663.8L412.2 664.1L413.8 664.6L414.7 665.1L417.3 665.5L418.1 665.6L419 665.9L425.9 666.2L436.2 666.4L486.5 666.4" fill="none" stroke="#000" stroke-width="1.5" stroke-linejoin="round" stroke-linecap="round" clip-path="url(#cb)"/>
<path d="M195 493.9L195.5 495.4L196.3 496.6L196.8 497.5L197.2 498.1L197.7 499.2L198.1 500L198.6 501.2L199.5 502.7L200 504.2L200.5 504.6L201 505.5L201.4 505.9L201.9 507.6L202.4 507.6L203.9 510L204.4 510.4L205 511.3L205.5 512.7L206 513.5L206.5 514.7L207.1 515.1L207.6 515.8L208.2 517.1L208.7 517.6L209.3 518.3L209.9 519.4L211 520.2L212.1 522.1L212.6 522.4L213.2 523.1L214.4 525.8L215 525.8L215.7 527.1L216.5 527.5L217.4 527.5L219.1 528.1L220 529.2L220.9 529.9L221.8 529.5L222.7 529.5L223.6 530.1L224.6 530.2L225.5 529.6L226.4 529.6L228.2 529.3L229.1 529.1L230 528.7L230.9 528.7L231.7 527.4L233.3 526.1L234.1 525.7L235.9 525.7L236.8 525.3L238.6 524.1L239.6 523.9L240.5 524.9L242.4 524.8L243.3 524.1L245 525.3L245.7 525.3L246.4 527.2L247.1 527L247.7 527.9L248.4 529.3L249 529.5L249.5 530.6L250 531.9L250.9 532.5L251.3 533.7L251.7 534.5L252.1 534.9L252.5 536L252.9 536.5L253.2 537.8L253.6 538.8L253.9 540.3L254.3 540.1L254.6 540.3L256.1 544.9L256.5 545L256.8 546L257.2 547.6L257.5 547.7L257.9 549L258.2 549.6L259 552L259.4 553.5L260.2 554.5L260.6 555.1L261.4 557.1L261.8 557.6L262.7 559.6L263.1 560.3L263.6 560.7L264 561.8L266.4 565.8L266.9 567L267.4 568L268 568.2L268.6 569.4L269.8 570.5L270.5 570.8L271.3 571.7L272 571.5L272.8 572L273.6 571.8L274.4 572.8L275.3 573L276.2 573.4L277 572.7L277.8 572.7L278.7 572L279.5 571.4L280.3 571.9L281.2 571.9L282 571.8L282.8 571.2L283.6 570.1L284.3 569.2L285.1 568.8L285.9 569L286.7 568.7L287.5 568.6L289.3 567.8L290.2 568.6L292.9 569L293.8 569.6L294.6 569.6L295.5 570.2L296.4 570.2L297.2 571.3L298 571.1L299.6 572.6L300.3 573.4L301.1 573.3L301.8 574.2L302.5 574.2L303.3 575.4L304 575.8L304.7 576.7L305.5 577.1L306.2 578.1L307 578.8L307.7 578.6L308.5 579.5L309.2 581L310 581.4L311.6 580.7L312.4 581.5L313.3 581.9L314.1 582L315 583.2L316.8 584L317.7 583.8L318.7 584.5L319.6 584.4L320.5 583.8L321.4 584.3L322.3 583.7L323.2 583.5L325 582.3L325.9 582.3L326.7 581.9L327.6 580.8L329.3 579.6L330.1 579.3L331 579.5L331.8 578.6L332.6 579.3L334.3 580.1L335 581.1L335.7 580.9L336.3 581.7L336.9 582.8L337.5 583.1L338 583.5L338.5 584.4L338.9 585.6L339.4 587.2L339.7 588.3L340.1 588.5L340.5 589.7L341.2 590.9L341.8 593.5L342.2 594.2L342.9 596.1L343.5 597.4L344.2 599.2L344.5 599.8L345.1 602.1L346.1 604L347 606.7L347.3 607.2L347.6 608.4L347.9 609.1L348.8 611.9L349.2 614.5L349.4 614.4L349.6 615.6L349.9 617L350.3 620.3L350.4 620.3L350.6 621.2L350.7 622.5L351 623.9L351.2 625.3L351.4 625.9L351.7 628.4L351.8 628.7L352 629.7L352.2 630.2L352.3 632.2L353.1 637.2L353.2 637.3L353.4 638.8L354.1 642.4L354.2 644L354.4 644.2L354.6 645.7L354.8 646.3L355.2 648.1L355.4 648.5L355.7 649.3L357.5 656.8L357.8 657.3L359 660.9L359.3 662L359.9 663.6L360.2 664.9L360.6 665.8L360.9 666.3L361.3 667.5L361.6 668.1L362 668.6L362.4 669.5L362.8 670.9L363.2 671.3L364.5 674.2L365.5 675.3L366.5 677.4L367.6 678.8L368.7 679.9L370 681.5L370.7 681.9L371.4 682.7L372.9 683.5L373.7 684.3L374.5 684.6L375.4 684.7L377 685.5L377.8 685.8L378.7 686L379.6 686.1L380.4 686.5L381.3 687L382.2 687.3L384.9 687.6L385.8 687.6L386.6 687.9L387.5 687.8L388.4 687.9L389.3 688.1L390.2 688.4L391.1 688.3L394.7 688.6L395.6 688.2L396.5 688.2L397.4 687.7L398.3 688L399.2 687.9L401 687.9L402.7 688.4L403.5 688.4L405.2 688.8L407.6 690.6L410 691.5L410.9 692L411.7 691.9L412.6 692.1L413.5 692.1L414.3 692.4L416.1 692.5L417 692.8L419.7 693.1L424.1 693.4L432.9 693.5L486.5 693.4" fill="none" stroke="#000" stroke-width="1.5" stroke-linejoin="round" stroke-linecap="round" clip-path="url(#cb)"/>
<path d="M195 579L196.3 578.3L197 578.2L197.7 578.3L198.3 579.2L199 579.2L199.6 578L200.3 578.1L201 578.4L201.8 578.4L202.6 578.7L203.4 578.6L204.2 578.3L205 578.8L205.8 579.2L206.7 578.6L207.5 579L208.3 578.9L209.2 578L210 578.5L210.8 578L211.7 578.1L212.5 576.9L213.3 577.8L214.2 577.5L215 577.5L215.8 577.1L216.7 576.4L217.5 576.4L218.3 575.8L220 576.3L220.8 576L221.6 575.5L222.5 576.5L223.3 576.2L225.5 578L226.2 578L226.9 579.3L227.5 579.6L228.1 580.5L228.6 581.8L229.1 582.8L229.6 583.2L230.1 583.8L230.5 585.1L231 585.7L231.5 585.7L233.3 589.2L233.7 589.7L234.2 590.6L234.6 591L235 592.3L235.8 593.7L236.2 595L236.6 595.5L237.3 597.8L237.6 598.7L238 599.2L238.3 600.3L238.7 600.8L239.6 603.4L239.9 604L240.2 605L240.5 606.7L240.8 607.2L241 608.4L241.3 608.8L241.9 610.6L242.2 611.2L242.8 613.7L243.2 614.6L243.5 614.9L244.2 617.1L244.5 618L244.9 618.5L245.6 620.3L246.4 623.1L246.7 623.1L247.5 625.3L247.9 625.5L249.5 628.8L250 629.4L250.5 629.7L251.1 631.2L251.7 632L252.3 633.5L253 633.6L253.7 633.5L254.4 634L255.2 634.8L256 634.9L257 634.6L258 635.1L259 635.1L260.8 634.5L261.6 634.1L262.5 633.9L263.4 633.5L264.3 632.8L266.1 631.9L267 631.8L267.9 631.5L268.8 631.9L269.7 631.2L270.7 631L271.6 630.7L272.5 629.8L273.4 630.3L274.3 630.6L275.2 631L276 631.6L276.7 631.8L277.4 632.5L278.1 633.8L278.7 633.4L279.4 633.8L280 634.8L280.6 635.4L281.3 635.6L282.5 636.4L283.5 638.3L284.1 638.9L284.6 640.4L285.1 640.7L285.6 641.6L286.1 643L286.6 644L287 644.1L287.5 645.1L288 645.8L288.4 646.7L288.9 647.9L289.3 648.4L289.7 649.2L290.1 650.7L290.5 651.6L291 652L292.3 654.4L292.7 654.9L293.1 655.2L293.6 656.4L294 657L295 659.4L296.1 661.5L296.7 661.5L297.3 662.1L298 662.1L298.6 663.5L299.3 664.7L300 665.5L301.4 666.5L302.2 666.9L302.9 667.8L303.7 667.9L304.5 668.1L305.3 668.1L306.2 668.8L307 669.6L307.8 669.9L308.6 669.7L309.5 670.4L310.4 670.7L311.3 670.1L312.1 669.7L313 670.4L313.9 670.4L314.7 669.9L315.6 670.1L316.4 669.9L317.3 669.6L318.2 670L319.9 668.5L320.7 669L321.6 668.4L322.4 667.9L323.3 668L324.1 668L325 667.5L326.8 667L327.7 667.2L328.6 667.1L329.5 666.6L331.3 667.4L332.2 667.6L333 668.2L333.7 668.4L334.3 669.5L334.9 669.3L335.5 669.5L336.5 671.4L337.1 672.5L337.6 673.3L338.1 673.5L338.6 674.8L339.1 675.4L340 677L340.5 677.9L341.4 679.1L341.8 679.4L342.2 680.8L342.7 681.4L343.1 682.3L343.6 682.9L344.4 684.5L345.3 686.8L345.8 686.8L347.1 689.5L347.6 690.2L348 690.7L348.9 692.9L349.3 693.3L349.8 694.1L351.1 696.8L352 698.1L352.5 699.1L353.4 700L353.9 700.6L354.4 701.8L354.9 702.5L356 704.6L356.5 704.7L359.4 707.9L360 708.3L360.7 709.1L361.5 709.8L362.3 710.5L364 711.4L365.7 712.8L367.4 713.2L369.1 714.3L370 714.7L373.4 715.8L374.3 716L375.1 716.5L376 716.7L376.9 716.7L378.7 717L379.6 717.2L380.5 717.5L382.3 717.7L383.2 717.6L384.1 717.7L385 717.8L385.9 718.1L386.9 718L388.7 718.3L390.6 718.4L391.6 718.7L392.5 718.8L395.3 718.8L398.1 719.1L400 719L401.8 718.8L402.7 719.2L404.5 719.2L406.4 719.6L408.2 719.4L418.4 719.8L424.1 720L444.8 720.1L486.5 720" fill="none" stroke="#000" stroke-width="1.5" stroke-linejoin="round" stroke-linecap="round" clip-path="url(#cb)"/>
<path d="M195 548.6L195.6 548.2L196.8 547L197.5 547L199.1 545.4L200 545.4L200.8 545.2L201.7 545.2L202.5 544.4L203.4 545.1L204.3 545.6L205.2 546.3L206 547.3L206.7 547.4L207.4 547.7L208.1 549.4L208.8 549.9L209.4 551L210 551.3L211.1 552.9L211.7 554L212.6 554.9L213 556.3L213.7 557.3L213.9 558.6L214.2 559L214.4 560.1L214.7 562L215 562.3L215.3 563.9L215.9 565.5L216.2 566.7L217.1 568.4L217.4 569.5L218.3 571L218.6 571.8L218.9 573.7L219.5 575.8L219.8 576.7L220.1 576.9L220.4 578.4L220.7 579.1L221 579.6L221.3 580.7L221.6 581.3L221.8 582.3L222.4 585L222.7 585.1L222.9 585.7L224.5 591.7L225 593.3L225.3 595L226 597.3L226.8 600.1L227 600.2L227.5 603.1L227.8 603.5L228 604.4L228.8 607.7L229.1 608.6L229.3 609.1L229.6 610.2L229.9 610.7L230.2 612.3L230.4 613.2L230.7 613.6L231 615L232.4 620.5L232.6 621L232.9 621L233.2 621.9L233.5 622.5L233.8 624.1L234.4 625.1L234.7 626.6L235 626.5L235.7 629L236.4 631.2L236.8 631.8L237.2 632.7L238 633.8L238.4 634.9L238.9 635.6L239.4 635.7L239.9 636.9L240.4 637.8L241 638.4L241.6 640L242.4 640.4L244 640.4L244.9 641.2L245.8 640.4L246.7 641L247.5 641.3L249 640.2L249.7 638.9L250.4 638.8L251 638.3L251.6 638.3L252.8 635.8L253.4 635.7L254 634.5L254.6 634.1L255.2 633.5L255.7 633.1L256.4 633.3L257 632.1L258.3 630.8L259 631.1L259.8 631L260.5 631.4L261.3 631.3L262 631.8L262.7 633.1L263.9 634L264.5 634.6L265 635.8L265.5 636.1L266 636.9L266.4 638.4L267.3 639.3L268 640.9L268.3 642L268.7 642.5L269 643.6L269.3 645.5L269.6 645.5L269.9 646.7L270.2 646.9L270.5 648.6L270.8 649.8L271.1 649.7L271.4 650.3L271.7 651.4L272 651.4L272.3 653.5L272.9 655.5L273.2 656L273.8 658.4L274.2 660.1L274.8 660.9L276.3 665.5L277.3 669.2L277.6 669.7L278.3 671.4L279.3 674.5L280 676.1L280.4 676.4L280.8 677.6L281.5 678.6L281.9 679.6L282.3 681.2L283 683.3L283.4 684.7L284.2 685.9L284.7 686.1L285.1 687.6L285.5 688L286 689.5L286.5 689.9L287.5 691.8L288.1 692.1L288.7 693.2L289.3 693.9L290 694.1L290.6 694.5L291.3 695.6L292 696.3L292.7 696.8L293.5 697.4L295.8 698.9L296.6 698.7L297.5 698.4L298.3 698.7L300 698.5L300.9 698.5L301.9 698.4L303.7 696.9L304.6 696.6L305.5 697L306.3 696.8L307.9 695.4L308.7 694.2L309.5 693.5L310.2 693.2L311 692.6L312.3 691.1L313 691.2L315 689.6L315.8 689.5L316.6 689.8L317.5 688.6L318.4 688.4L319.3 688.6L320.2 688.6L321 689.5L321.8 690L322.5 690.6L323.2 691.8L323.9 692.4L324.5 693.5L325 693.8L325.6 694.5L326.1 695L327.1 696.5L327.5 696.8L328 697.7L328.9 699.3L330.3 702.1L330.7 703.2L331.2 703.2L331.6 704.6L332 705.1L333.2 707.6L334 709.4L334.4 710.7L335.2 712.4L335.6 713L336 714.6L336.4 714.7L336.9 715.3L337.3 716.4L337.7 717L338.2 717.9L339.1 720.2L340 722.2L341.3 724.5L341.7 725.6L342.2 726.4L342.6 726.9L343.5 728.4L344 728.8L345.1 730.7L345.6 731.5L346.2 732.2L346.8 733.2L347.4 733.9L348.6 735L349.2 736L349.9 736.7L350.6 737.1L352 738.4L352.8 738.8L353.6 739.4L354.4 739.7L355.3 740.3L357 741.2L357.9 741.5L358.7 741.7L359.6 741.8L360.5 742.2L362.2 742.2L364 742.5L364.9 742.8L365.8 743L366.7 743.4L370.3 743.9L372.2 744.5L373.1 744.6L374.9 744.5L375.9 744.5L378.7 745L379.6 745.4L381.5 745.2L383.4 745.3L384.3 745.2L385.3 745.5L387.2 745.8L388.1 745.6L389.1 745.8L390 745.7L391 746L391.9 746L392.9 746.2L393.8 746.2L394.8 746L395.7 746.1L397.6 746.5L400.5 746.4L402.4 746.6L404.3 746.6L405.2 746.8L421.2 747.4L441.9 747.4L486.5 747.4" fill="none" stroke="#000" stroke-width="1.5" stroke-linejoin="round" stroke-linecap="round" clip-path="url(#cb)"/>
<path d="M195 553.9L195.5 554.4L196.5 556.8L197 556.5L197.5 557.2L198 558.7L198.5 559L199.5 560.7L200.1 561.2L200.6 561.4L201.1 562.9L201.6 563.1L202.1 563.9L202.5 565.3L202.9 565.3L203.4 565.9L203.8 567.7L204.1 568.5L204.5 568.9L204.9 570.2L205.3 570.8L206.4 574.1L206.8 574.4L207.1 575.3L207.5 575.7L208.6 579.3L209 580.1L209.7 581L210 582.9L210.3 583.9L210.6 584.5L211.2 587.3L211.4 588.3L211.7 588.1L212 588.4L212.2 589.5L212.5 590L212.8 590.8L213 592.3L213.3 592.5L214 595.8L214.5 597L215 600L215.2 600.5L215.4 600.6L215.6 601.2L215.9 603.4L216.5 606.7L216.8 607.4L217.3 609.4L217.5 609.9L217.8 611.3L218 611.7L218.3 613.2L218.8 614.2L219 615.1L220.1 619.6L220.4 621.1L220.7 621L221.2 623.4L221.5 623.9L222.3 627L222.6 627.9L222.9 628.5L223.2 628.9L223.5 629.7L224.1 632.6L224.7 634.3L225 634.6L226 638.7L226.4 637.8L227.2 639.5L227.5 641L228.7 643.3L229.3 645.6L229.5 647.2L229.8 647.8L230 648.1L230.6 650.3L231.4 651.8L231.9 651.8L232.5 652.6L233.1 652.5L234.3 654.5L235 655.2L236.5 656.3L237.4 656.1L238.2 657.8L239.1 657.9L240 657.5L241.7 657.8L243.4 657.8L244.3 657.7L245.1 657.1L246 657.7L246.8 656.8L247.6 657.3L248.5 657.2L249.3 657.3L250 657L251.6 659L252.4 659.1L253.9 660L254.5 661L255.1 661.4L256.7 664L257.7 665.2L258.1 666L258.6 667.5L259.4 668.5L259.8 669.8L260.6 671.7L261 673.2L261.4 673.6L262.5 676.1L262.8 677.3L263.2 677.9L263.5 679L263.8 679.5L264.2 680.4L264.8 682.8L265.2 683.4L265.5 685.1L265.8 686.3L266.1 686.9L266.4 687.2L266.8 687.9L267.7 691.8L268 692.3L268.3 692.4L268.9 695.1L269.5 696.5L269.8 697.6L270.1 698.2L270.4 699.6L271 701.7L271.3 702.2L271.9 704.3L272.2 705L272.8 707.5L273.4 709L273.7 709.5L274 710.9L274.7 712.1L275.3 714.6L276 716L276.3 717.2L276.6 717.7L277 718.8L277.4 719.2L278.1 721.9L279.3 724.5L279.7 725.6L280.1 725.5L280.6 726.3L281 727.7L281.9 729.1L282.4 730.2L282.9 730.8L283.4 730.8L283.9 731.5L284.5 732.3L285.1 732.8L285.9 733.8L286.7 734.3L287.5 734.4L288.2 734.9L289 734.1L289.8 734L290.5 734L291.3 733.9L292.1 733.4L292.8 732.7L293.6 731.8L295 731.1L297 728.9L297.6 728.1L298.8 727.3L299.5 727L300.2 725.7L300.9 725.3L301.5 724.8L302.3 724L303 724.2L303.8 723L304.7 722.6L305.5 722.6L306.3 722.7L307.9 723.6L308.5 724.3L309.1 724.7L309.6 725.4L310.1 726.5L310.6 727L311.6 728.6L312 729L312.5 729.7L313 731L313.5 731.5L314.5 733.4L315 733.6L315.5 735.4L316.5 737.4L317 737.7L317.5 738.2L318 738.9L319 741L319.5 741.5L320.5 743.4L321 744.1L322 746.2L322.5 747.1L323.1 747.2L323.6 748.8L324.1 749.3L324.6 750.6L325.7 752.2L326.3 752.8L326.8 753.5L327.4 754.5L328 755.3L329.2 756.6L330.5 758.4L331.2 758.8L331.9 759.2L333.3 760.7L334.7 762L336.1 763.2L336.9 764L338.4 764.9L339.2 765.3L340 765.6L340.9 765.7L341.8 766L342.7 766.2L343.6 766.5L347.3 767.1L348.2 767.5L349.1 768.1L350 768.2L351.8 768.5L352.6 769.3L355.1 770.5L356 771.1L356.8 771.6L357.7 771.8L359.4 772.8L360.2 772.9L362 773.7L362.9 773.9L363.7 773.9L364.6 774.1L365.5 774.1L367.3 774.3L368.2 774.2L369.1 774.3L372.7 774.1L373.6 774.3L374.5 774.3L375.5 774.5L376.4 774.6L377.3 774.3L378.2 774.5L379.1 774.4L380.9 774.6L381.8 774.4L382.7 774.7L383.6 774.5L388.2 774.4L389.1 774.1L390.9 774.3L391.8 774L392.7 774.2L396.2 773.7L397.1 773.8L398 773.4L398.8 773.3L399.6 773L401.2 772.8L402 772.7L403.8 771.7L404.6 771.1L405.5 771L406.2 770.3L407 770.4L407.7 769.9L408.5 769.9L410 770.3L410.8 770.2L411.5 770.6L412.3 771.2L413.7 772L414.5 772.8L415.2 773.3L416 773.6L416.7 773.6L417.5 774L418.4 774.1L419.3 774.4L421.1 774.7L422.9 774.9L426.4 775L435 775L486.5 775" fill="none" stroke="#000" stroke-width="1.5" stroke-linejoin="round" stroke-linecap="round" clip-path="url(#cb)"/>
<!-- panel c -->
<defs><clipPath id="cc"><rect x="43.0" y="887.8" width="447.6" height="343.4000000000001"/></clipPath><clipPath id="ccl"><rect x="43.0" y="887.8" width="166.0" height="343.4000000000001"/></clipPath></defs>
<path d="M209.6 887.8H43V1231.2H209.6M217.1 887.8H490.6V1231.2H217.1" fill="none" stroke="#000" stroke-width="1.6" stroke-linejoin="miter"/>
<line x1="205.6" y1="900.1" x2="213.6" y2="875.5" stroke="#000" stroke-width="1.5" stroke-linecap="butt"/>
<line x1="213.1" y1="900.1" x2="221.1" y2="875.5" stroke="#000" stroke-width="1.5" stroke-linecap="butt"/>
<line x1="205.6" y1="1243.5" x2="213.6" y2="1218.9" stroke="#000" stroke-width="1.5" stroke-linecap="butt"/>
<line x1="213.1" y1="1243.5" x2="221.1" y2="1218.9" stroke="#000" stroke-width="1.5" stroke-linecap="butt"/>
<line x1="98.4" y1="887.8" x2="98.4" y2="900.1" stroke="#000" stroke-width="1.35" stroke-linecap="butt"/>
<line x1="181.4" y1="887.8" x2="181.4" y2="900.1" stroke="#000" stroke-width="1.35" stroke-linecap="butt"/>
<line x1="244.3" y1="887.8" x2="244.3" y2="900.1" stroke="#000" stroke-width="1.35" stroke-linecap="butt"/>
<line x1="326.5" y1="887.8" x2="326.5" y2="900.1" stroke="#000" stroke-width="1.35" stroke-linecap="butt"/>
<line x1="408.3" y1="887.8" x2="408.3" y2="900.1" stroke="#000" stroke-width="1.35" stroke-linecap="butt"/>
<line x1="98.4" y1="1231.2" x2="98.4" y2="1218.9" stroke="#000" stroke-width="1.35" stroke-linecap="butt"/>
<line x1="181.4" y1="1231.2" x2="181.4" y2="1218.9" stroke="#000" stroke-width="1.35" stroke-linecap="butt"/>
<line x1="244.3" y1="1231.2" x2="244.3" y2="1218.9" stroke="#000" stroke-width="1.35" stroke-linecap="butt"/>
<line x1="326.5" y1="1231.2" x2="326.5" y2="1218.9" stroke="#000" stroke-width="1.35" stroke-linecap="butt"/>
<line x1="408.3" y1="1231.2" x2="408.3" y2="1218.9" stroke="#000" stroke-width="1.35" stroke-linecap="butt"/>
<line x1="70.8" y1="887.8" x2="70.8" y2="894.3" stroke="#000" stroke-width="1.35" stroke-linecap="butt"/>
<line x1="126.2" y1="887.8" x2="126.2" y2="894.3" stroke="#000" stroke-width="1.35" stroke-linecap="butt"/>
<line x1="153.9" y1="887.8" x2="153.9" y2="894.3" stroke="#000" stroke-width="1.35" stroke-linecap="butt"/>
<line x1="217" y1="887.8" x2="217" y2="894.3" stroke="#000" stroke-width="1.35" stroke-linecap="butt"/>
<line x1="271.8" y1="887.8" x2="271.8" y2="894.3" stroke="#000" stroke-width="1.35" stroke-linecap="butt"/>
<line x1="299.2" y1="887.8" x2="299.2" y2="894.3" stroke="#000" stroke-width="1.35" stroke-linecap="butt"/>
<line x1="353.8" y1="887.8" x2="353.8" y2="894.3" stroke="#000" stroke-width="1.35" stroke-linecap="butt"/>
<line x1="381.1" y1="887.8" x2="381.1" y2="894.3" stroke="#000" stroke-width="1.35" stroke-linecap="butt"/>
<line x1="435.8" y1="887.8" x2="435.8" y2="894.3" stroke="#000" stroke-width="1.35" stroke-linecap="butt"/>
<line x1="463.2" y1="887.8" x2="463.2" y2="894.3" stroke="#000" stroke-width="1.35" stroke-linecap="butt"/>
<line x1="70.8" y1="1231.2" x2="70.8" y2="1224.7" stroke="#000" stroke-width="1.35" stroke-linecap="butt"/>
<line x1="126.2" y1="1231.2" x2="126.2" y2="1224.7" stroke="#000" stroke-width="1.35" stroke-linecap="butt"/>
<line x1="153.9" y1="1231.2" x2="153.9" y2="1224.7" stroke="#000" stroke-width="1.35" stroke-linecap="butt"/>
<line x1="217" y1="1231.2" x2="217" y2="1224.7" stroke="#000" stroke-width="1.35" stroke-linecap="butt"/>
<line x1="271.8" y1="1231.2" x2="271.8" y2="1224.7" stroke="#000" stroke-width="1.35" stroke-linecap="butt"/>
<line x1="299.2" y1="1231.2" x2="299.2" y2="1224.7" stroke="#000" stroke-width="1.35" stroke-linecap="butt"/>
<line x1="353.8" y1="1231.2" x2="353.8" y2="1224.7" stroke="#000" stroke-width="1.35" stroke-linecap="butt"/>
<line x1="381.1" y1="1231.2" x2="381.1" y2="1224.7" stroke="#000" stroke-width="1.35" stroke-linecap="butt"/>
<line x1="435.8" y1="1231.2" x2="435.8" y2="1224.7" stroke="#000" stroke-width="1.35" stroke-linecap="butt"/>
<line x1="463.2" y1="1231.2" x2="463.2" y2="1224.7" stroke="#000" stroke-width="1.35" stroke-linecap="butt"/>
<text transform="translate(98.4 1262.4) scale(1.02 1)" font-size="22.5" text-anchor="middle">18</text>
<text transform="translate(181.8 1262.4) scale(1.02 1)" font-size="22.5" text-anchor="middle">15</text>
<text transform="translate(244.3 1262.4) scale(1.02 1)" font-size="22.5" text-anchor="middle">6</text>
<text transform="translate(326.5 1262.4) scale(1.02 1)" font-size="22.5" text-anchor="middle">3</text>
<text transform="translate(408.3 1262.4) scale(1.02 1)" font-size="22.5" text-anchor="middle">0</text>
<text transform="translate(489.5 1262.4) scale(1.02 1)" font-size="22.5" text-anchor="middle">-3</text>
<text transform="translate(277 1297.1) scale(1.03 1)" font-size="22.8" text-anchor="middle">Binding energy (eV)</text>
<text transform="translate(19.3 1054.3) rotate(-90) scale(1.05 1)" font-size="22.8" text-anchor="middle">Intensity (arb. units)</text>
<text transform="translate(0.6 906)" font-size="22.8" text-anchor="start">(c)</text>
<text transform="translate(54.8 917.6) scale(1.08 1)" font-size="19.7" text-anchor="start">HeI</text>
<text transform="translate(480.3 916.4) scale(1.07 1)" font-size="19.6" text-anchor="end">NPB/MoO<tspan font-size="13.2" dy="7.6">3</tspan></text>
<text transform="translate(478.4 938.8) scale(1.07 1)" font-size="19.6" text-anchor="end">on Mg:Bphen</text>
<text transform="translate(400.8 970)" font-size="20.4" text-anchor="start">E</text>
<text transform="translate(414 976.4)" font-size="13" text-anchor="start">F</text>
<text transform="translate(481.8 979.9) scale(1.04 1)" font-size="19.4" text-anchor="end">100</text>
<text transform="translate(481.8 1006.1) scale(1.04 1)" font-size="19.4" text-anchor="end">64</text>
<text transform="translate(481.8 1031.5) scale(1.04 1)" font-size="19.4" text-anchor="end">32</text>
<text transform="translate(481.8 1056.8) scale(1.04 1)" font-size="19.4" text-anchor="end">24</text>
<text transform="translate(481.8 1082) scale(1.04 1)" font-size="19.4" text-anchor="end">16</text>
<text transform="translate(481.8 1107.3) scale(1.04 1)" font-size="19.4" text-anchor="end">12</text>
<text transform="translate(481.8 1132.8) scale(1.04 1)" font-size="19.4" text-anchor="end">8</text>
<text transform="translate(481.8 1158.2) scale(1.04 1)" font-size="19.4" text-anchor="end">4</text>
<text transform="translate(481.8 1183) scale(1.04 1)" font-size="19.4" text-anchor="end">2</text>
<text transform="translate(481.8 1208.8) scale(1.04 1)" font-size="19.4" text-anchor="end">0 Å</text>
<text transform="translate(192 1214.8) scale(1.05 1)" font-size="20" text-anchor="start">2.0 eV</text>
<line x1="128.8" y1="970" x2="128.8" y2="1231.2" stroke="#000" stroke-width="1.5" stroke-linecap="butt" stroke-dasharray="8.4 6.15"/>
<line x1="183.4" y1="1170" x2="183.4" y2="1231.2" stroke="#000" stroke-width="1.5" stroke-linecap="butt" stroke-dasharray="8.4 6.15"/>
<line x1="408.3" y1="974.6" x2="408.3" y2="1231.2" stroke="#000" stroke-width="1.5" stroke-linecap="butt" stroke-dasharray="8.4 6.15"/>
<line x1="356.4" y1="955.8" x2="381.6" y2="1187" stroke="#000" stroke-width="1.5" stroke-linecap="butt" stroke-dasharray="8.4 6.15"/>
<line x1="141.6" y1="1219.5" x2="170.8" y2="1219.5" stroke="#000" stroke-width="1.6" stroke-linecap="butt"/>
<polygon points="182.8,1219.5 167.8,1224.2 167.8,1214.8" fill="#000"/>
<polygon points="129.6,1219.5 144.6,1224.2 144.6,1214.8" fill="#000"/>
<path d="M42.6 978C48.4 977.93 54.2 977.93 60 977.8C71.67 977.53 83.34 977.32 95 976.8C99.01 976.62 103.01 976.17 107 975.7C109.81 975.37 112.67 975.1 115.4 974.4C117.47 973.87 119.46 972.93 121.4 972C122.8 971.33 124.24 970.59 125.4 969.6C126.2 968.92 126.95 967.99 127.3 967C127.91 965.29 128.14 963.35 128.3 961.5C128.64 957.69 128.71 953.84 128.8 950C128.94 944.34 128.86 938.66 129 933C129.03 932 129.28 931 129.3 930C129.52 916 129.57 902 129.7 888" fill="none" stroke="#000" stroke-width="1.5" stroke-linejoin="round" stroke-linecap="round" clip-path="url(#cc)"/>
<path d="M42.6 1004.6C48.4 1004.53 54.2 1004.52 60 1004.4C73.07 1004.12 86.15 1003.94 99.2 1003.4C103.21 1003.24 107.21 1002.77 111.2 1002.3C114.01 1001.97 116.87 1001.7 119.6 1001C121.67 1000.47 123.66 999.53 125.6 998.6C127 997.93 128.44 997.19 129.6 996.2C130.4 995.52 131.15 994.59 131.5 993.6C132.11 991.89 132.34 989.95 132.5 988.1C132.84 984.29 132.91 980.44 133 976.6C133.14 970.94 133.15 965.27 133.2 959.6C133.28 949.73 133.36 939.87 133.4 930C133.46 916 133.47 902 133.5 888" fill="none" stroke="#000" stroke-width="1.5" stroke-linejoin="round" stroke-linecap="round" clip-path="url(#cc)"/>
<path d="M42.6 1029C48.4 1028.93 54.2 1028.91 60 1028.8C74.67 1028.51 89.35 1028.35 104 1027.8C108.01 1027.65 112.01 1027.17 116 1026.7C118.81 1026.37 121.67 1026.1 124.4 1025.4C126.47 1024.87 128.46 1023.93 130.4 1023C131.8 1022.33 133.24 1021.59 134.4 1020.6C135.2 1019.92 135.95 1018.99 136.3 1018C136.91 1016.29 137.14 1014.35 137.3 1012.5C137.64 1008.69 137.71 1004.84 137.8 1001C137.94 995.34 137.97 989.67 138 984C138.07 969.33 138.05 954.67 138.1 940C138.15 922.67 138.23 905.33 138.3 888" fill="none" stroke="#000" stroke-width="1.5" stroke-linejoin="round" stroke-linecap="round" clip-path="url(#cc)"/>
<path d="M42.6 1054.3C48.4 1054.23 54.2 1054.21 60 1054.1C75.27 1053.81 90.55 1053.65 105.8 1053.1C109.81 1052.95 113.81 1052.47 117.8 1052C120.61 1051.67 123.47 1051.4 126.2 1050.7C128.27 1050.17 130.26 1049.23 132.2 1048.3C133.6 1047.63 135.04 1046.89 136.2 1045.9C137 1045.22 137.75 1044.29 138.1 1043.3C138.71 1041.59 138.94 1039.65 139.1 1037.8C139.44 1033.99 139.51 1030.14 139.6 1026.3C139.74 1020.64 139.78 1014.97 139.8 1009.3C139.88 989.53 139.83 969.77 139.9 950C139.97 929.33 140.1 908.67 140.2 888" fill="none" stroke="#000" stroke-width="1.5" stroke-linejoin="round" stroke-linecap="round" clip-path="url(#cc)"/>
<path d="M42.6 1080C48.4 1079.93 54.2 1079.91 60 1079.8C75.53 1079.51 91.08 1079.36 106.6 1078.8C110.61 1078.66 114.61 1078.17 118.6 1077.7C121.41 1077.37 124.27 1077.1 127 1076.4C129.07 1075.87 131.06 1074.93 133 1074C134.4 1073.33 135.84 1072.59 137 1071.6C137.8 1070.92 138.55 1069.99 138.9 1069C139.51 1067.29 139.74 1065.35 139.9 1063.5C140.24 1059.69 140.31 1055.84 140.4 1052C140.54 1046.34 140.56 1040.67 140.6 1035C140.76 1010 140.8 985 141 960C141.2 936 141.53 912 141.8 888" fill="none" stroke="#000" stroke-width="1.5" stroke-linejoin="round" stroke-linecap="round" clip-path="url(#cc)"/>
<path d="M42.6 1105C48.4 1104.93 54.2 1104.84 60 1104.8C77.17 1104.68 94.34 1104.77 111.5 1104.5C115.51 1104.44 119.51 1104.16 123.5 1103.8C125.85 1103.59 128.21 1103.32 130.5 1102.8C132.01 1102.45 133.53 1101.91 134.9 1101.2C135.99 1100.64 137.06 1099.89 137.9 1099C138.7 1098.15 139.42 1097.1 139.8 1096C140.39 1094.27 140.64 1092.35 140.8 1090.5C141.14 1086.69 141.21 1082.84 141.3 1079C141.45 1072.67 141.44 1066.33 141.5 1060C141.77 1033.33 141.99 1006.67 142.3 980C142.66 949.33 143.1 918.67 143.5 888" fill="none" stroke="#000" stroke-width="1.5" stroke-linejoin="round" stroke-linecap="round" clip-path="url(#cc)"/>
<path d="M42.6 1131C48.4 1130.93 54.2 1130.84 60 1130.8C78.87 1130.67 97.74 1130.77 116.6 1130.5C120.61 1130.44 124.61 1130.16 128.6 1129.8C130.95 1129.59 133.31 1129.32 135.6 1128.8C137.11 1128.45 138.63 1127.91 140 1127.2C141.09 1126.64 142.16 1125.89 143 1125C143.8 1124.15 144.52 1123.1 144.9 1122C145.49 1120.27 145.74 1118.35 145.9 1116.5C146.24 1112.69 146.31 1108.84 146.4 1105C146.55 1098.67 146.53 1092.33 146.6 1086C146.86 1064 147.14 1042 147.4 1020C147.67 996.67 147.99 973.33 148.2 950C148.39 929.33 148.47 908.67 148.6 888" fill="none" stroke="#000" stroke-width="1.5" stroke-linejoin="round" stroke-linecap="round" clip-path="url(#cc)"/>
<path d="M42.6 1157C48.4 1156.93 54.2 1156.84 60 1156.8C81.6 1156.67 103.21 1156.78 124.8 1156.5C128.81 1156.45 132.81 1156.16 136.8 1155.8C139.15 1155.59 141.51 1155.32 143.8 1154.8C145.31 1154.45 146.83 1153.91 148.2 1153.2C149.29 1152.64 150.36 1151.89 151.2 1151C152 1150.15 152.72 1149.1 153.1 1148C153.69 1146.27 153.94 1144.35 154.1 1142.5C154.44 1138.69 154.51 1134.84 154.6 1131C154.75 1124.67 154.65 1118.33 154.8 1112C154.98 1104.66 155.35 1097.33 155.6 1090C156.28 1070 156.93 1050 157.6 1030C158.27 1010 158.9 990 159.6 970C160.13 955 160.62 939.99 161.3 925C161.86 912.66 162.63 900.33 163.3 888" fill="none" stroke="#000" stroke-width="1.5" stroke-linejoin="round" stroke-linecap="round" clip-path="url(#cc)"/>
<path d="M42.6 1182C48.4 1181.93 54.2 1181.83 60 1181.8C85.07 1181.66 110.14 1181.79 135.2 1181.5C139.21 1181.45 143.21 1181.16 147.2 1180.8C149.55 1180.59 151.91 1180.32 154.2 1179.8C155.71 1179.45 157.23 1178.91 158.6 1178.2C159.69 1177.64 160.76 1176.89 161.6 1176C162.4 1175.15 163.12 1174.1 163.5 1173C164.09 1171.27 164.34 1169.35 164.5 1167.5C164.84 1163.69 164.91 1159.84 165 1156C165.15 1149.67 165.03 1143.33 165.2 1137C165.43 1128 165.94 1119 166.2 1110C166.87 1086.67 167.28 1063.33 168 1040C168.72 1016.66 169.28 993.31 170.5 970C171.28 954.98 172.56 939.97 174 925C175.19 912.64 176.93 900.33 178.4 888" fill="none" stroke="#000" stroke-width="1.5" stroke-linejoin="round" stroke-linecap="round" clip-path="url(#cc)"/>
<path d="M42.6 1209C48.4 1208.97 54.2 1208.93 60 1208.9C80 1208.8 100 1208.72 120 1208.6C133.33 1208.52 146.67 1208.56 160 1208.3C164.01 1208.22 168.03 1208.05 172 1207.6C173.87 1207.39 175.84 1207.07 177.5 1206.3C178.71 1205.74 179.82 1204.68 180.6 1203.6C181.45 1202.42 182.02 1200.93 182.4 1199.5C182.96 1197.4 183.2 1195.18 183.4 1193C183.73 1189.35 183.82 1185.67 184 1182C184.52 1171.33 184.91 1160.66 185.5 1150C186.41 1133.33 187.25 1116.65 188.5 1100C189.75 1083.31 191.25 1066.64 193 1050C194.75 1033.31 196.55 1016.6 199 1000C200.49 989.93 202.74 979.97 204.8 970C205.88 964.77 207.11 959.58 208.4 954.4C209.51 949.91 210.8 945.47 212 941" fill="none" stroke="#000" stroke-width="1.5" stroke-linejoin="round" stroke-linecap="round" clip-path="url(#ccl)"/>
<path d="M247.7 887.5L248 888.9L248.7 890.6L249.3 893.4L249.7 893.9L250 895.3L250.3 895.4L250.9 897.7L251.2 898L251.5 899.1L252.2 900.8L252.4 902.4L252.7 902.6L253 903.1L253.3 904L253.8 906.5L254.4 907.8L254.9 910.3L255.2 910.5L255.4 912L255.7 912.5L255.9 914.2L256.4 915.2L256.7 916.7L257.4 920L257.9 921.4L258.2 922.7L259.1 925.7L259.3 927.2L259.8 928.9L260.2 930.5L260.5 930.9L260.9 934.1L261.2 934.7L261.4 935.8L262 937.8L262.3 939.2L262.7 941.1L263 942L263.2 942.5L263.8 944.9L264.4 947.1L264.8 948L265.2 948.4L265.6 949.4L266.1 949.8L266.8 950.4L268.4 951.9L269.2 952.3L270 952.3L270.8 952.5L271.6 952.3L272.4 953L273.2 952.8L274 952.8L274.9 953.4L275.7 953.4L276.6 953.2L277.4 953.2L279.2 953L280 953.6L280.9 954.3L281.7 953.6L282.6 953.9L283.4 954.5L284.3 955.2L285.1 955.3L286 955.6L287.6 956.4L288.4 957.2L289.3 956.9L290 957.4L290.8 957.3L292.3 956.3L295 954L295.6 953.1L296.1 951.7L296.6 951.8L297.1 950.6L297.5 949.8L298 949.5L298.5 948.5L299.5 946.7L300.6 945.3L301.7 943.4L302.2 942.8L302.8 941.7L303.4 941.1L304 941.1L304.6 940.7L305.3 939.7L306 939L306.7 938.7L307.4 937.9L308.1 937.4L308.8 937.1L310.5 938.5L312.6 940.6L313.3 941.1L314.4 942.8L315 944.2L315.5 945.1L316 945.5L316.5 946.2L316.9 947.8L317.8 948.7L318.2 949.4L318.6 950.5L319.5 952L319.9 953.3L320.7 954.4L321.1 955.4L322 957L323.6 959.5L324.3 959.5L325 960.5L325.7 961.1L327.2 961.6L328.9 962.6L330.4 963.1L331.2 963.8L331.9 964.7L332.7 965L334 966.1L334.5 966.8L335.1 968L336 969.5L336.5 970.2L337.6 971.3L338.3 971.6L339.2 971.8L340 972L340.7 972.4L341.3 973.2L341.9 974.1L342.5 974.8L344 975.8L344.8 975.9L345.5 975.6L346.9 974.3L347.5 973.8L349.3 971.4L349.9 970.9L350.6 970.1L351.3 969.5L352 969L352.7 968.9L353.5 968.2L354.4 967.6L355.3 967.4L356.3 967.7L357.1 967.7L357.9 967.8L358.7 968.2L359.5 968.4L361.3 969.1L362.2 969.3L363.1 969.1L364.1 969.6L365 969.8L366 969.8L366.9 970.2L367.9 970.1L368.8 970.7L369.5 970.7L370.2 971.1L370.9 971.2L371.5 971.7L373.1 972.6L374.6 974L375.3 974.5L376.8 976.2L377.5 976.5L378.2 977.2L378.9 978.1L379.6 978.5L380.4 979.2L381.3 979.4L382.2 979.5L384 979.9L384.8 980.2L386.4 980.4L390.6 980.6L395 980.7L485.3 980.7" fill="none" stroke="#000" stroke-width="1.5" stroke-linejoin="round" stroke-linecap="round" clip-path="url(#cc)"/>
<path d="M249.9 888L250.5 889.6L250.8 890.2L251.1 891.7L251.4 892.4L252.3 895L252.6 895.6L253.4 898.2L253.9 900.5L254.2 900.9L254.4 901.6L254.9 904.3L255.1 904.6L255.4 905.3L255.9 907.6L256.3 909.1L256.6 909.6L257 911.6L257.2 913L258.2 916.7L258.4 918.1L258.6 918.4L258.8 919.9L259.1 920.4L259.5 922.8L260.4 925.9L261 929.6L261.3 930L261.7 931.8L261.9 933L262.1 933.6L263.8 942.7L265.1 948.9L266.5 954" fill="none" stroke="#000" stroke-width="1.5" stroke-linejoin="round" stroke-linecap="round" clip-path="url(#cc)"/>
<path d="M244.6 888.1L244.9 889.5L245.2 890L245.9 891.3L246.8 893.9L247.4 895.9L247.7 897.5L248.5 900.4L248.8 900.6L249.1 902L249.4 902.2L249.7 903.4L249.9 904.2L251.1 909L251.4 909.4L251.9 910.5L252.5 913.3L252.7 913.6L253 914.6L253.3 914.6L253.8 917.3L254.3 918.5L255.1 922.1L255.9 924.9L256.2 926.2L256.4 926.9L257.2 929.9L257.5 931.4L257.7 931.2L258.8 936.2L259 936.2L259.3 937.5L259.6 938L259.8 939.8L260.1 940.4L260.4 941.8L260.6 942.3L261.1 944L261.4 945.9L261.6 947L261.9 947.1L262.4 948.4L263.1 952.1L263.3 952.5L263.6 953.4L263.8 954.9L264.1 955.4L264.3 956.1L265.2 959L265.5 959.3L266.1 961.3L266.4 962.6L266.7 963.3L267.5 966.9L267.7 967.1L268 968.2L268.5 969.4L268.7 970.6L269 971L269.3 972.1L269.7 972.9L270.1 973.6L270.6 974.7L271.8 976.7L272.5 977.3L273.3 977.2L274.2 977.4L275.1 978.2L276.1 978.1L277 978.3L277.9 978.7L278.8 978.6L279.7 978.8L280.6 978.1L281.5 978.3L282.4 978.4L283.2 978.4L284.1 978.6L285 978.4L285.9 978.5L286.7 978.8L287.5 979.6L288.3 979.5L289.2 980.1L290 980.6L290.9 980.9L291.8 981.5L293.6 982.4L294.4 982.1L295.1 981.9L295.8 981.1L296.5 981L297.8 979.9L298.4 978.7L299 977.9L300.2 977.5L300.7 976.5L301.3 975.2L301.8 974.1L304 971.7L305.1 970.7L305.6 969.9L306.2 968.5L306.7 967.7L307.3 967.5L307.9 966.5L309.1 965.1L309.7 964.9L310.4 964.4L311.7 962.9L312.4 962.9L313.1 962.6L313.9 962.5L314.6 963.1L315.3 964.4L316 964.6L316.7 965.5L317.3 965.7L317.9 966.9L318.5 967.1L319.1 968L319.6 969.3L320.6 970.7L321 971.6L321.9 972.8L322.7 974.6L323.6 976.7L324 977.4L324.4 978.1L324.9 979L325.3 979.5L325.7 980.5L326.1 980.9L326.6 982.4L327 983.6L327.5 984L329 986.1L330.9 987.9L332.2 989L332.8 989.9L333.6 990.1L334.3 990.4L336.7 992.2L338.4 992.9L339.2 993.7L340 994.1L340.7 994.8L342 996.6L343.3 998.1L344 998.5L344.6 999.4L345.2 999.7L346.4 1001L348.5 1001.8L349.4 1001.8L351 1000.3L351.7 999.8L353.1 998.5L353.7 997.7L354.4 997.2L355.1 996.3L356.5 995.5L357.3 995L358 994.6L358.7 994.1L359.5 994.1L360.2 993.7L362.1 994L363 994.6L363.7 994.9L364.5 995.2L365.2 995.7L366 995.9L366.7 995.9L368.2 995.6L369 995.9L370.8 995.9L371.7 996.1L372.6 996.4L374.2 997.6L375.7 998.2L377.8 999.9L378.5 1000.2L379.2 1000.6L379.9 1001.3L380.6 1001.8L381.3 1002.4L382.8 1003.4L383.6 1003.7L384.4 1004.3L385.2 1004.6L386.9 1005.6L387.7 1006L389.5 1006.4L390.3 1006.5L392.1 1007L392.9 1007L396.5 1007.4L400 1007.5L428.8 1007.6L485.3 1007.5" fill="none" stroke="#000" stroke-width="1.5" stroke-linejoin="round" stroke-linecap="round" clip-path="url(#cc)"/>
<path d="M238.3 888.1L238.9 889.2L239.5 890.1L240.1 890.2L241.2 890.8L241.8 891.5L242.3 891.9L243.2 893.2L243.6 894.1L244.5 896.7L244.9 897L246 899.8L246.7 900.7L247.1 902.2L247.7 903.8L248.1 903.8L248.4 905.3L248.7 906.3L249 907.9L249.6 909.5L249.9 910.7L250.2 911.3L250.5 912.6L251 913.8L251.3 914.7L251.6 916.3L252.2 917.8L252.5 919.4L252.8 919.3L253 919.7L253.6 922.4L254.2 923.7L254.4 925.3L255.5 928.6L255.8 930.2L256.1 930.6L256.9 933.6L257.2 934.3L257.4 935.6L257.7 936L258 937.3L258.7 940.2L259.2 943L259.5 943L259.7 944.1L260.2 945.4L260.7 947.8L260.9 948L261.7 951.3L262.5 954.1L262.7 953.9L263.3 955.5L263.6 957.1L263.8 958.2L264.1 958.7L264.4 959.4L265 961.9L265.3 962.7L265.6 964.3L265.9 965.1L266.6 967.4L266.9 967.2L267.3 968.7L268 970.1L269 973.5L269.3 974.3L269.7 974.7L270 974.6L270.4 975.9L271.1 977.4L271.4 978.3L271.8 979.9L272.5 981.8L273.1 983.5L273.9 985.3L274.6 987.4L274.9 987.4L277 991L278.5 992L279.3 992.3L281.8 992.7L282.7 992.4L283.5 992.4L284.3 992.9L286 993.3L286.9 993.9L287.7 993.8L288.5 993.9L289.4 994.1L290.2 994.9L291 994.9L291.8 995.6L292.6 995.9L294.2 997.3L295 997.4L295.7 997L296.5 997.8L297.3 997.7L298 998L299.6 997L300.4 996.6L301 996.4L301.6 996L302.1 995L303.5 992.8L304 992.9L304.5 991.6L305.3 989.7L306.2 987.5L306.6 987.1L307.1 986.4L308 984.4L308.5 983.7L309 982.7L309.6 982.4L310.1 981.8L310.6 980.6L312.4 978L314.3 975.9L315 974.9L315.7 974.5L316.5 974.3L317.2 973.9L317.9 973.7L318.6 974.6L319.4 974.3L320 975.1L321.9 977.3L322.5 978.9L323.5 979.7L323.9 981L324.3 981.3L324.7 981.8L325.5 984.1L327.6 988.6L328.8 991.5L329.3 992.3L330.2 993.4L331 994.9L331.8 996.9L332.2 997.4L332.6 998.7L333 999.7L333.7 1000.9L334.2 1001.9L335 1003.7L335.5 1003.9L336.6 1005.7L337.5 1006.1L338.3 1006.8L340.7 1008.1L341.3 1008.8L342.4 1010.7L343 1011.1L343.5 1011.6L344.4 1013.5L345.4 1015L345.8 1015.3L347.2 1017.4L347.6 1018.5L348.1 1019.2L349.5 1021.9L349.9 1022.6L350.4 1023.7L351.4 1025.4L352.5 1026.3L353.1 1026L353.8 1025.3L354.5 1024.9L355.1 1023.9L356.5 1023L357.2 1022.6L357.9 1021.9L358.5 1021L359.2 1020.5L359.8 1019.9L360.3 1019L360.9 1018.6L361.4 1017.8L362 1017.4L362.6 1016.6L363.3 1015.9L364.6 1015.4L365.4 1015.4L367 1016.1L368.5 1017.1L370 1017.9L371.5 1019.1L372.3 1019.3L373 1019.1L373.8 1018.8L374.7 1018.9L376.5 1019.6L377.3 1019.8L378 1020.3L378.8 1020.4L379.5 1020.8L380.9 1022L381.6 1023L382.3 1023.5L383 1023.9L383.8 1024.8L384.5 1025.1L386.6 1027L387.4 1027.4L389.6 1029.2L391.2 1030.1L392 1030.4L392.7 1031L393.5 1031.3L394.2 1031.7L395 1031.8L395.8 1032L397.5 1032.3L399.3 1032.4L401 1032.5L414.9 1032.6L485.3 1032.5" fill="none" stroke="#000" stroke-width="1.5" stroke-linejoin="round" stroke-linecap="round" clip-path="url(#cc)"/>
<path d="M217.6 946.7L218.1 946.3L218.5 945.7L219 945.7L219.7 944.1L220.3 944.2L221 943.7L222.2 941.7L222.7 941.2L223.4 941L224 939.8L224.8 938.9L225.5 938.2L226.3 938.1L227.2 937.7L228 937.6L228.8 937L231.2 936.8L232 935.6L232.8 936L233.6 935.8L234.5 936.4L235.2 937.5L236 937.9L236.8 937.9L238.4 939.3L239.2 939.5L240.8 941.6L242.3 942.1L243.1 942.5L243.9 942.6L244.6 943.5L245.3 943.9L246 944.6L246.6 944.5L247.6 947.4L248.1 947.4L248.5 948.8L249 949.2L249.4 950.7L249.9 951.2L250.3 952.4L250.7 952.6L251.1 953.3L251.6 954.6L252 955.2L252.4 956.3L252.9 956.5L253.3 957.8L254.2 958.2L254.6 959.9L255.4 960.9L256.1 962.7L256.5 963.3L257.2 965.7L257.8 967.1L258.4 969.6L258.7 970.1L259.6 973.2L259.9 973.5L260.2 975L260.8 976.3L261.1 977.7L261.4 978.3L261.7 979.6L262 980.4L262.3 980.6L263 984.4L263.2 984.5L263.7 985.9L263.9 987.5L264.6 990.2L265.4 994L265.6 993.8L266.4 997.8L266.6 998.4L266.9 999.3L268 1003.5L268.3 1003.8L269 1006.9L269.8 1009.2L270.4 1011.4L270.7 1012L271.1 1013.7L271.5 1013.6L273.2 1017.8L274.1 1019.4L275.2 1020.9L275.8 1021.6L276.5 1022.3L277.2 1022.6L278 1023.5L278.8 1023.7L279.5 1024.5L280.4 1024.4L282.1 1025.3L283.1 1025.6L284 1025.7L285 1025.7L285.9 1026L286.8 1025.5L287.8 1025.7L288.7 1025.7L289.6 1025.8L290.5 1026.1L291.4 1026.7L292.3 1027L293.2 1027.1L294.1 1027.7L295 1027.6L295.9 1028L296.8 1028.6L299.5 1029.2L300.4 1028.7L301.9 1028.4L303.3 1027.5L304 1026.9L304.7 1026L305.4 1025.9L306.1 1025.1L306.7 1024.7L307.4 1023.5L308 1022.8L308.6 1021.8L309.9 1021.3L310.5 1020.4L311.1 1019.3L311.7 1018.9L313 1018L314.3 1016.2L314.9 1015.7L315.6 1014.6L316.3 1014.3L317 1013.8L317.6 1013.6L319 1013.7L319.8 1013.2L320.6 1014.1L321.3 1014.5L322 1015.1L322.7 1015.5L323.4 1016.2L324.1 1016.2L324.8 1017.2L325.4 1017.7L326 1019L328.1 1021.9L328.5 1022.4L329 1023.4L330 1024.8L330.5 1026L331 1026.2L332 1027.5L332.5 1028.8L333 1029.7L333.5 1030.4L334 1030.9L334.6 1031.7L335.2 1032.8L335.7 1033.3L336.3 1034.5L336.9 1035L337.6 1035.7L338.2 1036.8L339.4 1037.8L340.6 1039.2L342.3 1041L343.4 1042.5L344 1043.1L345.2 1044.9L346.4 1045.9L347.7 1047.5L348.3 1047.8L349.6 1048.8L350.3 1049.1L351 1049.6L351.8 1049.8L352.7 1050.6L353.5 1051L354.4 1050.9L355.2 1051.1L356.1 1050.6L357 1050.2L357.8 1050.1L358.7 1049.3L359.5 1049.1L360.4 1048.3L362 1047.7L362.8 1047.2L363.7 1046.5L364.5 1046.4L365.3 1045.9L366.2 1045.2L367 1045L368.7 1044.4L371.9 1046.4L374.5 1047.5L375.2 1047.6L376 1047.5L376.8 1047.6L378.5 1048L379.4 1048.7L380.3 1048.8L381.1 1049.5L382.8 1050.1L383.6 1050.8L385.2 1051.9L386.6 1052.9L387.3 1053.5L388.7 1054.5L391.9 1055.6L393.6 1056.4L395.3 1056.8L396.9 1056.8L401.3 1057.3L404 1057.4L430.8 1057.5L485.3 1057.4" fill="none" stroke="#000" stroke-width="1.5" stroke-linejoin="round" stroke-linecap="round" clip-path="url(#cc)"/>
<path d="M217.6 972.4L218.5 970.4L219 969.9L219.6 969.4L220.3 968.7L221 968.5L221.6 968.2L222.2 967.6L222.8 967.3L223.4 966.5L224 965.9L224.8 964.9L225.5 964.4L226.3 963.3L227.2 963.2L228 963.3L228.8 963L229.6 963.3L230.4 962.9L231.2 962.4L232.8 962.5L233.6 963L234.4 962.7L235.2 963.7L236 963.6L236.8 964.5L237.6 963.9L238.4 964.5L240 964.8L240.7 965.7L242.2 967.7L242.9 967.6L243.6 968.1L244.3 968.4L245 969.1L245.7 970L246.3 971.2L246.9 971.2L247.4 971.9L249.2 974.5L249.8 975.1L250.4 975.1L250.9 975.9L251.4 977L251.9 977.8L252.4 978.1L252.8 978.7L254.5 983L255.6 985.2L256 985.6L256.4 987L257.8 990.1L258.5 991.9L258.8 994.5L259.2 995.3L259.8 995.9L260.1 997.4L260.4 997.8L261.1 999.5L261.4 1001.4L262.6 1003.8L263 1004.8L263.3 1006.5L264 1008.5L265.3 1011.6L265.6 1013.1L265.9 1013.5L266.2 1014.9L266.5 1015.1L266.8 1016.5L267.1 1017.2L267.4 1017.7L268 1019.4L268.6 1020.6L268.9 1022.2L269.2 1022.6L269.5 1023.3L269.8 1024.7L270.1 1025.3L270.4 1026.8L271 1028.3L271.3 1029.7L271.9 1031L273.2 1035.1L273.9 1036.5L275.2 1038.5L275.8 1039.8L276.5 1039.8L277.2 1040L278 1040.7L278.7 1041.1L279.5 1040.3L280.2 1040.8L281 1040.5L282 1040.8L282.9 1041.4L283.9 1041L285.8 1042L286.8 1042.3L287.7 1042.3L289.4 1043.2L290.3 1043.2L292 1044.3L292.9 1045.2L293.7 1045.4L295.4 1045.9L296.3 1046.3L297.1 1046.9L298 1046.4L298.9 1046.9L300.9 1047.5L301.8 1047.3L302.8 1046.8L303.7 1046.5L305.4 1046.2L306.2 1045.8L307 1046.1L307.9 1045.2L308.7 1045L310.3 1043.1L311.2 1042.5L312 1042.2L312.8 1042.1L313.6 1041.5L314.4 1041.6L315.2 1040.9L316 1040.7L316.7 1040.7L317.5 1040.3L319 1040.6L319.9 1040.9L320.8 1041.7L321.7 1042.1L322.5 1042.7L323.3 1042.8L324 1043.2L325.4 1044.5L326 1044.8L326.6 1045.8L327.2 1046.2L327.8 1046.8L328.9 1048.3L329.4 1048.8L330 1049.9L330.6 1050.6L331.2 1051.5L331.7 1052.1L332.3 1052.5L333.4 1054.2L334 1054.8L334.6 1055.8L335.1 1056.4L335.7 1057.3L336.3 1057.7L338 1059.8L338.5 1060.6L339 1061.3L339.5 1062L340 1062.4L340.6 1063.4L341.3 1064.2L343.3 1065.8L344 1066.6L344.6 1066.9L345.2 1067.5L345.8 1067.9L347.1 1069.4L349.1 1071.2L349.8 1072.2L350.5 1073L351.2 1073.4L352 1074L352.8 1074.5L353.7 1075.1L356.3 1076.3L357.2 1075.9L358 1075.9L360.6 1075L361.5 1074.9L362.3 1074.1L363.1 1073.8L364 1073.8L364.8 1073.6L365.6 1073.3L366.5 1072.5L367.3 1072.5L368.1 1072.2L369 1072.3L369.8 1072L370.6 1072L371.4 1072.1L372.2 1072.1L373 1072.3L373.9 1072.2L377.3 1073.5L378.8 1073.8L380.2 1073.9L380.9 1074.3L381.6 1074.4L382.3 1075L383 1075.3L384.5 1076.4L385.9 1077.2L386.6 1077.4L388.9 1078.8L389.8 1079.4L391.5 1080.2L394.8 1081.5L395.6 1081.9L396.5 1082.2L397.4 1082.2L398.2 1082.4L400 1082.6L403.5 1082.8L408 1082.9L485.3 1082.9" fill="none" stroke="#000" stroke-width="1.5" stroke-linejoin="round" stroke-linecap="round" clip-path="url(#cc)"/>
<path d="M217.6 1014.5L219.2 1013.6L220 1012.1L220.8 1012.1L221.6 1012L222.4 1011.2L223.2 1011.7L224 1011.3L224.8 1010.7L225.6 1011.2L226.5 1010.5L227.3 1010.4L228.2 1008.8L229 1009.2L229.9 1009.9L230.8 1009L231.7 1009.2L232.6 1009.2L233.5 1008.9L234.4 1009.9L235.3 1010.2L236.2 1010.6L237.1 1010.9L238 1010.6L238.8 1010.7L240.4 1011.6L241.2 1011.6L242 1012.4L242.9 1013.1L243.7 1013.3L244.6 1014L245.4 1015.3L246.2 1014.8L247 1015L247.6 1016.3L248.3 1016.5L250 1019.2L250.6 1019.7L251.2 1020.1L251.8 1020.3L252.4 1020.8L252.9 1021.9L253.5 1022L254.1 1022.4L254.6 1024.3L255.1 1024.7L255.6 1025.3L256.2 1026.1L256.7 1026.8L257.7 1029.4L258.3 1029.7L258.8 1031.2L260.5 1032.9L261 1033.4L261.6 1034.3L262.2 1035.7L262.8 1035.5L263.4 1036.4L264 1037.6L264.6 1038.1L265.6 1040.5L266 1040.9L266.4 1042.2L267.8 1045.4L268.5 1047.4L268.8 1048.8L269.7 1050.4L270.8 1052.8L271.8 1054.1L272.3 1055L272.8 1055.2L273.4 1057L273.9 1057.7L274.5 1057.9L275.6 1059.6L276.2 1060.2L276.8 1061.7L277.4 1062.3L278.1 1062.7L278.8 1064.1L279.5 1064.7L280.2 1065.2L280.9 1065.2L281.7 1065.6L282.4 1066.4L283.2 1066.7L284 1067.5L284.8 1067.3L285.7 1067.6L286.5 1067.9L288.3 1068.9L290 1069.3L290.8 1069.9L291.7 1069.8L292.6 1070.1L293.4 1070.6L294.3 1071.2L295.1 1071L296 1071.2L296.8 1071.1L297.7 1071.7L298.5 1071.9L299.4 1072.4L300.3 1072.5L301.1 1072.8L302 1073.3L303.7 1073.2L304.6 1072.8L305.5 1072.7L306.4 1073L308.1 1073L309.9 1072.7L310.8 1072.7L311.6 1072.9L312.5 1072.7L313.4 1072.1L314.3 1072.6L315.1 1072.2L316 1072.6L316.9 1072.5L317.7 1073.1L318.6 1073.1L319.4 1073L320.2 1073.8L321 1074.2L322.6 1075.7L323.4 1076.2L324.1 1076.6L324.9 1076.8L325.7 1077.3L326.4 1077.4L327.2 1078.2L327.9 1078.7L328.6 1079.8L329.4 1080.3L330.1 1080.5L330.8 1081L331.5 1082.3L332.2 1082.8L332.9 1083.5L333.6 1084L334.3 1084.3L334.9 1085L335.6 1085.3L336.2 1086.1L336.8 1087.2L337.3 1087L338.2 1089.3L338.6 1089.8L339.5 1091.9L340 1092.2L341.3 1093.3L342 1094.3L342.7 1094.9L343.5 1095.2L344.3 1095.4L345.8 1096.4L346.5 1097L347.3 1097.4L348 1098.3L348.8 1098.4L349.6 1098.9L350.4 1099.2L351.2 1099.9L352 1099.9L352.8 1100.4L353.7 1101L355.4 1101.9L356.4 1102.1L357.3 1102.5L358.3 1102.7L359.2 1102.6L360.1 1102.6L361.1 1102.4L364.3 1101.4L365.7 1100.7L366.5 1100.4L368 1100.2L368.9 1100.3L369.9 1100L370.8 1099.4L372.7 1099.8L373.6 1099.7L374.5 1099.9L375.3 1100.2L376.9 1100.5L377.7 1100.9L379.3 1101.5L380.1 1101.6L381.7 1102.2L382.5 1102.6L383.4 1103L385.3 1103.2L386.2 1103.8L387 1104.1L387.7 1104.3L388.5 1104.6L389.2 1104.7L390.8 1105.2L391.5 1105.5L392.3 1106L393 1106.2L393.8 1106.6L395.4 1107.2L396.2 1107.4L397 1107.7L399.2 1108L401.7 1108.2L406.1 1108.3L417.9 1108.3L485.3 1108.3" fill="none" stroke="#000" stroke-width="1.5" stroke-linejoin="round" stroke-linecap="round" clip-path="url(#cc)"/>
<path d="M217.6 1030.4L219.2 1029.6L220 1029.5L220.8 1028.8L221.6 1029L223.2 1028.9L224.8 1027.6L225.7 1027.6L226.5 1027.6L227.3 1027.3L228.2 1027.5L229 1027.8L229.9 1027.3L230.8 1027.8L231.7 1028L232.6 1027.6L233.5 1026.9L234.4 1027.7L235.3 1027.9L237.1 1028L238 1028.6L238.8 1028.2L239.6 1028.3L240.4 1028.6L242 1029.7L243.7 1031.1L244.6 1031.2L245.4 1032.5L247 1034L247.6 1034.9L248.3 1034.9L248.8 1034.6L249.4 1035.6L250 1036.3L250.7 1037.6L251.3 1037.7L252 1038.9L252.7 1039.2L254 1040.5L254.6 1042L255.3 1042.5L255.9 1043.1L257.8 1045.8L258.4 1045.6L259 1046.9L260.2 1048.2L260.7 1049.3L261.3 1049.9L262.4 1051.7L263 1051.8L263.6 1053.2L264.2 1053.7L264.8 1054.1L266 1056.2L266.7 1056.7L268.1 1058.2L268.8 1058.4L269.5 1059.6L270.3 1059.6L271 1059.9L271.6 1061.1L272.3 1061.9L272.9 1061.8L273.5 1062.8L274.2 1063L275.5 1063.8L277.1 1065.1L277.9 1066.4L278.7 1067.3L279.5 1067.7L280.4 1068.3L281.3 1068.7L282.2 1069.3L283.2 1068.7L284.1 1069.1L286 1069.5L287 1069.8L287.9 1070.4L288.8 1070.5L289.7 1070.5L291.5 1070.9L292.4 1070.9L293.3 1070.7L294.1 1071.1L295 1071.3L295.9 1071.3L296.7 1071.6L297.6 1071.7L298.4 1072.2L300 1073.6L300.8 1073.4L301.5 1074.2L303 1074.8L305.6 1077.7L306.6 1079.8L307.1 1080.9L307.6 1081.6L308 1081.6L308.4 1082.1L308.8 1083.6L309.2 1084.1L310.4 1087.5L310.8 1088.1L311.2 1089.1L312.1 1090.8L312.6 1091L313 1092.5L313.5 1093.5L314 1093.9L315.5 1096.3L316 1097.6L316.5 1097.9L317 1099L318 1100.7L318.6 1100.7L319.8 1102.5L320.4 1103L321.6 1103.9L322.9 1106.2L323.5 1106.9L324.8 1107.9L325.5 1109L326.2 1109.3L326.9 1109.8L327.6 1110L328.3 1111.2L329 1111.5L329.7 1112.5L330.4 1113L331.2 1113.3L333.4 1115.3L334.2 1115.6L335 1115.5L335.8 1116.3L336.6 1116.7L337.5 1117.5L338.3 1117.8L339.2 1117.9L340.9 1118.7L341.7 1119.3L342.5 1119.6L343.3 1120.5L344.2 1120.8L345.8 1122.1L346.5 1122L347.3 1122.7L348 1123L348.8 1123.2L349.6 1123.9L352.1 1125L352.9 1125.6L353.8 1125.6L354.6 1126.1L357.4 1126.7L359.3 1127.5L360.2 1127.8L361.2 1128.2L363.1 1128.2L366.7 1127.8L369.2 1126.5L370 1126.5L370.9 1126.4L371.9 1126.1L372.8 1125.6L374.7 1125.3L376.5 1125.6L377.3 1125.7L378.2 1126L379 1126.5L379.8 1126.7L381.5 1127.7L382.3 1128L383 1128.2L384.5 1128.9L385.3 1129.4L387.6 1130.5L388.4 1130.6L389.2 1130.9L390 1131.4L390.8 1131.5L393.3 1132.4L394.2 1132.6L395 1132.9L396.7 1133.3L397.5 1133.3L400.9 1133.7L404.4 1133.8L413.9 1133.8L485.3 1133.8" fill="none" stroke="#000" stroke-width="1.5" stroke-linejoin="round" stroke-linecap="round" clip-path="url(#cc)"/>
<path d="M217.6 1050.9L219.3 1050.8L220.1 1051.1L221 1050.4L221.8 1050L222.7 1048.8L223.5 1049L224.3 1049L225.2 1049.3L226 1049L226.8 1049.3L227.7 1049.4L228.5 1049.3L229.3 1048.8L230.2 1049.4L231 1049.2L231.8 1049.1L232.7 1049.4L234.4 1050.5L236 1051.3L237.7 1051.8L238.5 1051.9L239.4 1052.2L240.2 1052.8L241 1053.7L241.8 1054.1L242.7 1054.3L243.5 1055.5L244.3 1055.5L245.2 1055.6L246 1057L246.8 1057.3L248.4 1057.7L249.2 1059L250 1059.3L250.8 1059.4L251.7 1060.9L252.5 1060.7L253.4 1061.2L254.3 1061.5L255.1 1062L256 1062.8L257.6 1062.5L258.5 1062.9L259.3 1064.4L260.2 1064.6L261 1064.5L261.8 1065.2L262.7 1065.2L264.3 1066.3L265.2 1066L266 1066.4L267.8 1067.1L268.7 1067.7L269.5 1067.8L270.4 1068.3L271.3 1067.7L272.2 1067.7L273.1 1068.3L274 1067.8L274.9 1068.2L275.8 1068.9L277.5 1068.9L278.4 1069.4L279.3 1069.3L280.2 1069.4L281.1 1068.9L282 1069.2L282.9 1069L283.8 1069.7L284.7 1069.9L285.6 1069.8L286.4 1070.1L287.3 1070.7L288.2 1070.5L289.1 1070.6L290 1070.8L290.9 1070.7L291.8 1070.4L292.7 1071.1L293.6 1070.3L294.5 1070.8L295.4 1071L296.2 1070.2L297.1 1070.4L298.9 1071.2L299.8 1071.3L300.7 1071.8L301.5 1071.7L303.1 1073.7L303.8 1074.1L304.4 1074.7L304.9 1076.2L305.4 1076.6L305.8 1076.6L306.2 1077.3L306.6 1078.6L307.8 1080.6L308.5 1083.2L308.8 1083.7L309.2 1085.1L309.8 1086.5L310.1 1087.6L310.4 1088L310.7 1089.1L311.3 1090.9L311.9 1093.9L312.2 1094.7L312.8 1095.7L313.1 1096.5L314 1100.2L314.8 1103.1L315.1 1103.6L315.4 1104.6L316 1105.7L316.6 1107.6L316.8 1109L317.4 1111L317.9 1112.2L318.5 1114.2L318.8 1114.7L319.4 1117.6L320.6 1120.4L321 1121.9L321.4 1122.7L321.8 1124.1L322.2 1124.6L323.1 1126.5L324 1128.1L324.5 1129.7L325 1129.9L325.5 1130.5L325.9 1131.6L326.4 1132.4L326.9 1133.3L327.4 1133.5L328.4 1135.7L329 1136.1L330.1 1137.5L331.4 1139.3L332 1139.5L333.3 1140.8L334.7 1141.8L335.4 1142.6L336.2 1142.9L336.9 1143.6L337.7 1143.7L338.4 1144.4L339.2 1144.9L340.8 1145.3L341.6 1145.7L342.5 1146.1L343.3 1146.2L344.2 1147L345 1147.2L345.9 1147.6L347.8 1148.1L348.7 1148.7L350.4 1149.5L351.3 1149.7L353 1150.5L353.8 1150.5L356.4 1151.3L357.4 1151.8L358.3 1152.1L359.3 1152.3L360.2 1152.4L361.2 1152.7L362.1 1153L364 1153.2L365 1153.5L365.9 1153.5L366.9 1153.6L367.9 1153.9L368.8 1153.9L369.7 1153.6L372.6 1153.3L374.3 1153L375.2 1152.7L376 1152.8L376.8 1152.5L377.7 1152.7L378.5 1152.5L380.9 1152.5L381.7 1153L383.4 1153.4L384.4 1153.9L385.3 1154.2L386.2 1154.3L389 1155.3L390 1155.5L390.9 1155.8L391.9 1156.3L392.8 1156.4L393.8 1156.7L394.6 1157.1L396.2 1157.4L397.7 1158L399.2 1158.1L400 1158.5L400.9 1158.4L404.3 1158.8L407 1158.9L427.8 1159L485.3 1158.9" fill="none" stroke="#000" stroke-width="1.5" stroke-linejoin="round" stroke-linecap="round" clip-path="url(#cc)"/>
<path d="M217.6 1059.6L218.5 1059.4L219.4 1058.6L220.2 1058.9L221.1 1059.4L222 1059L223 1059.9L224 1058.6L225 1059.3L226 1059.5L227 1058.9L228.7 1059.2L229.5 1059L230.4 1059.5L231.2 1059.9L232 1059.5L232.9 1059.9L234.6 1061L235.5 1061.1L236.3 1061.8L238 1062.6L238.9 1064L239.7 1064.1L240.6 1064.3L241.4 1063.7L242.3 1063.8L243.1 1064.8L244 1066.1L244.9 1066L245.7 1067L246.6 1066.8L247.4 1066.9L248.3 1066.8L249.1 1067L250 1067.3L250.8 1067.8L251.7 1068.1L254.3 1069.9L255.1 1070.2L256 1070.3L256.8 1069.6L257.7 1070.3L258.5 1069.7L259.3 1071.1L260.2 1070.6L261 1070.3L261.8 1070.9L262.7 1071L263.5 1071.6L264.3 1071.6L265.2 1072L266 1070.8L266.8 1071L268.4 1070.8L269.2 1070.8L270.8 1070.7L272.4 1071.1L274 1070.7L274.8 1070.8L275.6 1069.9L276.4 1070.5L277.2 1070.3L278 1070L278.8 1069.2L279.7 1069.4L280.5 1068.5L281.3 1068.3L282 1067.9L282.8 1067.6L283.5 1067.2L284.2 1066.5L284.9 1066.1L285.5 1066.1L286.5 1063.6L288 1061.6L288.5 1060.7L289.1 1059.9L289.6 1058.7L290.2 1057.8L291.5 1056.2L292.3 1056.3L293.1 1055.4L294 1054.6L294.8 1054.7L295.6 1053.9L296.4 1053.7L297.3 1054.7L298 1054.9L298.7 1055.8L299.4 1057.3L300 1057.7L301.4 1060.7L301.8 1061.3L302.3 1062.3L303.4 1064.5L304.3 1066.8L304.6 1068.9L304.9 1069.8L305.2 1069.5L305.5 1070.2L305.8 1070.4L306.3 1072.4L307 1076.9L307.8 1079.6L308 1080.1L308.2 1080.9L309 1084.1L309.7 1086.1L311 1092.2L311.5 1093.5L311.9 1094.5L312.3 1097.3L312.5 1098.1L312.7 1098.3L312.9 1099.3L313.5 1102.5L313.7 1103.9L313.9 1104.6L314.8 1109.7L315 1110.5L315.6 1112.2L315.8 1114.1L316 1114.7L316.2 1116.2L316.4 1116.8L317 1120L317.2 1120.4L317.6 1122.1L317.8 1122.2L318 1123.2L318.2 1124.7L318.4 1125.5L318.6 1127.3L318.8 1127.9L319.4 1131.6L320.1 1134.7L320.3 1134.9L321 1138.1L321.5 1139.7L321.7 1140.8L322.2 1141.9L323 1144.8L323.2 1145.4L323.8 1148.2L325.8 1153.6L326.1 1154.9L326.8 1156.2L327.1 1156.9L327.8 1159.2L328.2 1159.9L328.6 1160.9L329 1161L330.4 1163.4L330.9 1163.7L331.4 1164.6L331.9 1165.1L332.5 1166.2L333.8 1167.4L334.6 1167.9L336 1169.7L336.8 1170.1L337.6 1170.2L339.2 1171.7L340.8 1172.5L342.5 1173.3L343.4 1173.8L344.3 1173.6L346 1174.3L346.9 1174.9L347.8 1174.9L349.7 1175.6L350.6 1175.7L351.5 1176.2L352.4 1176.1L353.2 1176.4L354.9 1176.5L355.8 1176.9L359.4 1177.9L360.3 1178L361.2 1178.3L362.2 1178.4L364.1 1178.8L365.1 1179L366 1179.5L367 1180L368 1180L368.9 1179.8L369.9 1179.8L370.8 1180L371.8 1180L372.7 1179.9L374.4 1180.2L376.1 1180L377 1179.6L377.8 1179.6L378.6 1179L380.2 1179.3L381 1179.3L382.8 1179.5L383.6 1180L384.5 1180.3L385.4 1180.3L388.9 1182L389.6 1182.2L390.4 1182.6L391.2 1182.7L392 1182.8L392.9 1183.2L395.8 1183.7L399.2 1184.1L406.2 1184.2L485.3 1184.2" fill="none" stroke="#000" stroke-width="1.5" stroke-linejoin="round" stroke-linecap="round" clip-path="url(#cc)"/>
<path d="M217.6 1086.9L218.4 1087L219.3 1087.2L220.1 1086.5L221 1087L221.8 1087L222.6 1087.3L223.4 1086.5L224.2 1086.5L225 1086.7L225.8 1087.1L226.7 1086.6L227.5 1086.5L228.3 1086.2L229.2 1086.1L230 1086.3L230.8 1085.6L231.7 1086.6L232.5 1087L233.4 1087.3L234.2 1087.9L235 1087.2L235.9 1088.4L236.7 1088.8L237.6 1089.2L238.5 1089.4L239.3 1090.4L240.2 1090.8L241 1090.9L241.9 1091.2L242.7 1091.8L243.6 1091.4L244.4 1092.3L245.3 1092.8L246.1 1092.8L247 1093.6L247.8 1094.2L248.6 1094.6L249.4 1094.8L250.2 1094.2L251 1094.6L251.8 1094.9L252.6 1095.5L253.5 1095.3L254.3 1095.8L255.2 1096L256 1095.5L257.9 1094.8L258.8 1094.8L259.6 1094.4L260.3 1093.6L261 1093.1L262.4 1092.8L263 1092.4L263.6 1091.3L265.4 1089.7L266.6 1087.6L267.1 1087.1L267.7 1087L268.2 1086.1L269.2 1084L269.7 1084.1L270.2 1083.1L270.7 1081.8L271.1 1081.2L271.6 1081L272.1 1080.9L272.5 1079.3L273 1078.9L273.5 1077.7L274.1 1076.8L274.6 1075.4L275.1 1075.2L275.6 1073.7L276.2 1073L276.7 1071.6L277.2 1071.4L278.2 1070.5L279.1 1068.7L279.6 1068.2L280 1066.7L280.5 1066.5L281 1065.3L282 1063.3L282.5 1063L284.6 1059.5L285.2 1058.6L285.7 1058.3L286.2 1057.2L286.8 1056.4L287.3 1056L287.9 1056L288.5 1055.8L289.1 1055L290.3 1053.9L290.9 1053.1L291.6 1053.3L292.4 1052L293.2 1051.3L294 1051.6L294.8 1051.4L295.6 1051L296.4 1050.9L297.3 1051.4L298.1 1052.1L298.8 1052.9L299.4 1053L299.9 1053.5L300.3 1054.5L300.8 1056L301.2 1056.3L302 1057.6L302.4 1057.9L304.1 1062.9L304.4 1063.4L304.7 1064.3L305 1064.4L305.5 1066.7L305.7 1067.3L306.2 1069.4L306.5 1069.9L306.7 1071.3L307.2 1072.3L307.8 1075.7L308 1075.7L308.8 1080.6L309.3 1082.3L310.2 1087.8L310.3 1088L310.5 1088L310.8 1091.2L311.3 1093.3L311.8 1097.4L311.9 1098.2L312.1 1098.7L312.7 1102.7L313 1104.1L313.2 1105.6L313.7 1107.6L314.1 1110.1L314.8 1113.4L314.9 1113.6L315.1 1114.5L315.6 1118.5L316 1119.6L316.2 1121.4L316.4 1122.3L316.9 1124.7L317.3 1125.9L317.8 1130.6L318.3 1132.9L318.7 1135L319 1135.9L319.2 1137.1L319.6 1138.5L320.3 1143.7L321 1146.9L321.4 1149.2L321.5 1149.6L321.9 1152.1L322.2 1153.2L323.3 1160.4L323.7 1161.7L324.4 1166.8L324.9 1169.9L325.5 1174.4L325.7 1174.5L326 1176.3L326.2 1178.1L326.8 1179.7L327.2 1182.4L328.3 1185.4L328.6 1187L329.3 1187.9L330 1189.7L330.3 1191L331 1192.7L331.3 1193.1L331.7 1194.1L332.5 1195.8L333.5 1196.8L334.7 1198.7L335.3 1199.2L336 1199.5L336.7 1200.1L337.4 1200.5L338.1 1201.1L338.9 1201.5L339.7 1201.8L342.2 1202.3L343.1 1202.6L344 1203L344.9 1202.9L346.7 1203.4L347.6 1203.3L348.6 1203.5L349.5 1203.7L350.5 1203.7L351.4 1203.9L355.2 1203.8L356.2 1203.7L358.1 1203.8L360 1204L361.9 1203.9L362.8 1204.1L363.7 1204L364.7 1204.2L365.6 1204.2L367.5 1204.2L368.4 1204.4L370.3 1204.1L371.2 1204.2L372.1 1204.4L373.1 1204.5L374 1204.7L374.9 1204.8L375.8 1205L376.7 1204.6L377.6 1204.9L380.2 1205.2L381.1 1205.1L383 1205.4L383.9 1205.8L385.8 1205.9L387.7 1206.4L388.7 1206.5L389.6 1207L390.5 1207.2L391.4 1207.7L392.3 1207.6L394.1 1208L395 1208.3L395.9 1208.4L396.8 1208.8L397.7 1209L398.6 1209.1L400.4 1209.5L404.2 1209.9L408 1210L422.9 1210L485.3 1210" fill="none" stroke="#000" stroke-width="1.5" stroke-linejoin="round" stroke-linecap="round" clip-path="url(#cc)"/>
</svg>
</body></html>
